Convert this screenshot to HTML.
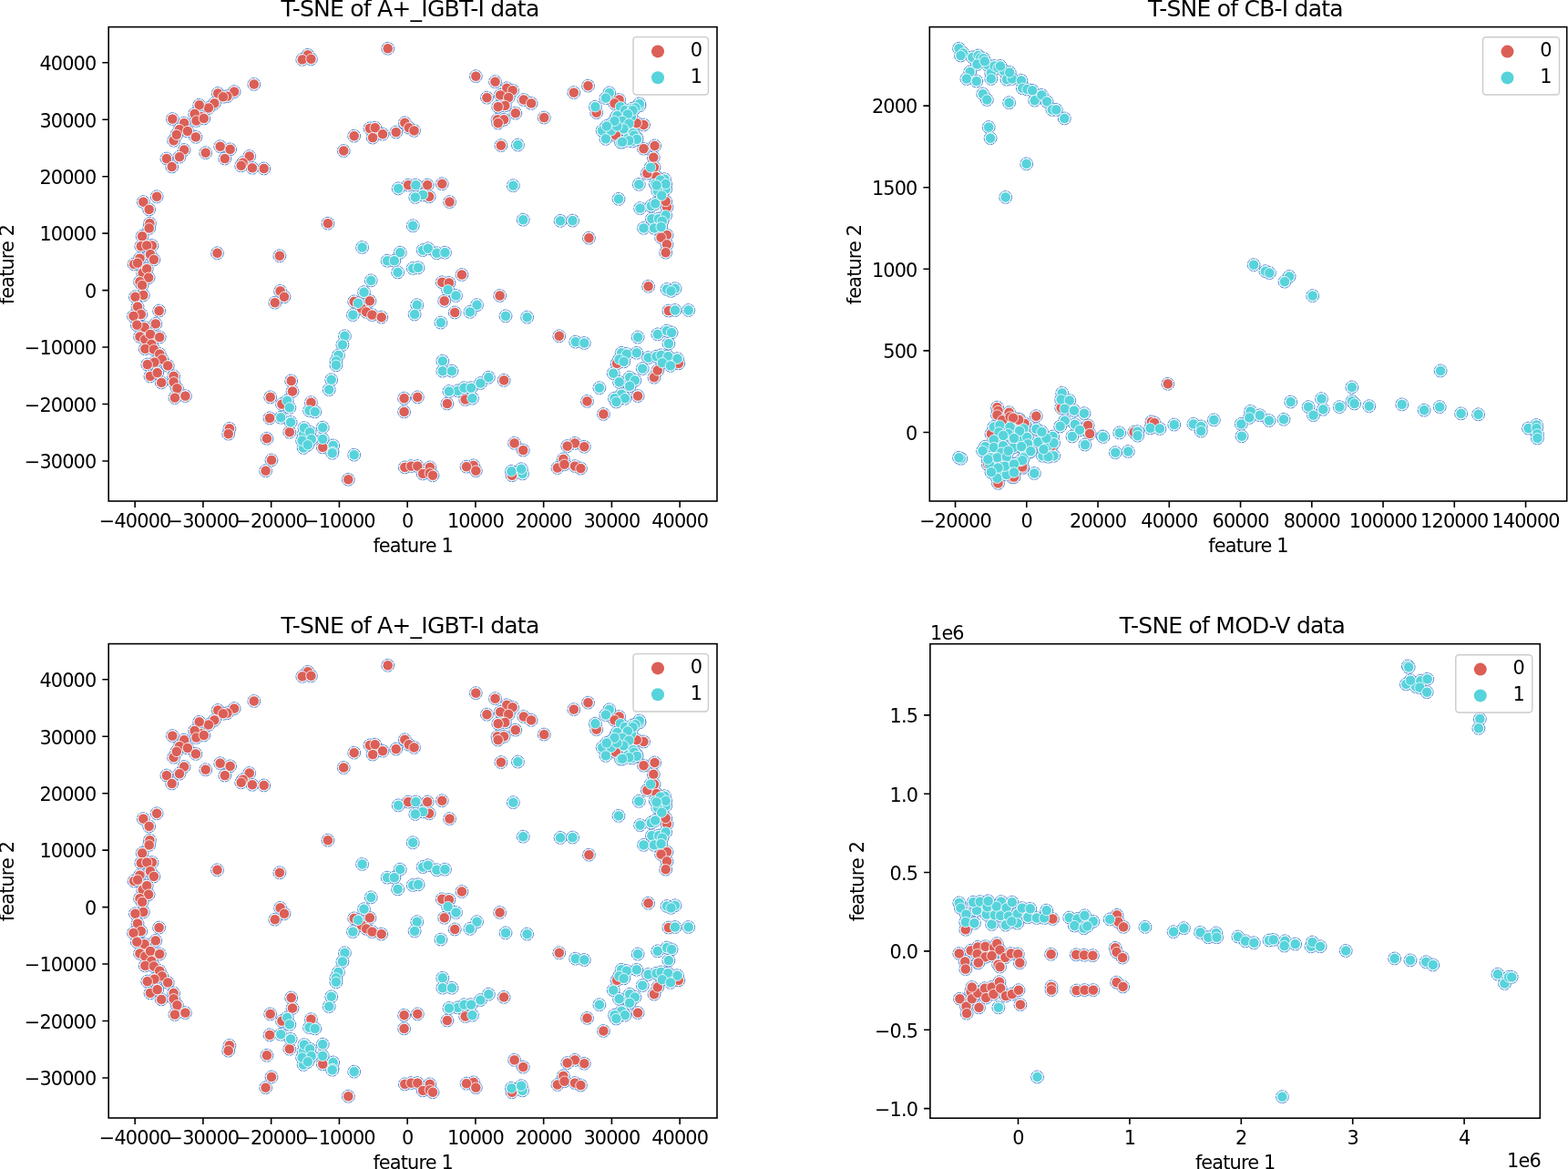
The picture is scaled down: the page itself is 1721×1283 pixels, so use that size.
<!DOCTYPE html><html><head><meta charset="utf-8"><title>T-SNE plots</title><style>html,body{margin:0;padding:0;background:#fff;overflow:hidden}svg{display:block}.t{font-family:"DejaVu Sans","Liberation Sans",sans-serif;font-size:20.83px;letter-spacing:-0.85px;fill:#000}.ti{font-family:"DejaVu Sans","Liberation Sans",sans-serif;font-size:25.0px;letter-spacing:-0.76px;fill:#000}</style></head><body><svg width="1721" height="1283" viewBox="0 0 1721 1283"><defs><circle id="r" r="6.9" fill="#fff" stroke="#4f89d2" stroke-width="1.0" stroke-dasharray="5 0.8"/><circle id="a" r="5.7" fill="#db5f57" stroke="#fff" stroke-width="0.8"/><circle id="b" r="5.7" fill="#57d3db" stroke="#fff" stroke-width="0.8"/></defs><clipPath id="c1"><rect x="119.2" y="29.6" width="667.8" height="520.4"/></clipPath><g><g clip-path="url(#c1)"><use href="#r" x="278.8" y="92.5"/><use href="#r" x="239.2" y="102.5"/><use href="#r" x="257.1" y="100.6"/><use href="#r" x="249.4" y="105.7"/><use href="#r" x="244.9" y="106.3"/><use href="#r" x="235.3" y="113.4"/><use href="#r" x="228.9" y="118.5"/><use href="#r" x="218.7" y="115.3"/><use href="#r" x="220.6" y="128.1"/><use href="#r" x="213.6" y="124.9"/><use href="#r" x="215.5" y="132.5"/><use href="#r" x="223.8" y="130"/><use href="#r" x="189.3" y="130.6"/><use href="#r" x="202.1" y="135.1"/><use href="#r" x="197" y="142.1"/><use href="#r" x="205.9" y="144"/><use href="#r" x="214.9" y="150.4"/><use href="#r" x="190.6" y="154.3"/><use href="#r" x="193.8" y="147.9"/><use href="#r" x="202.1" y="164.5"/><use href="#r" x="197" y="172.2"/><use href="#r" x="182.9" y="174.1"/><use href="#r" x="188.7" y="183"/><use href="#r" x="225.7" y="167.7"/><use href="#r" x="241.7" y="160.7"/><use href="#r" x="252.6" y="163.9"/><use href="#r" x="246.8" y="174.1"/><use href="#r" x="273.7" y="171.5"/><use href="#r" x="266.6" y="178.6"/><use href="#r" x="276.9" y="184.3"/><use href="#r" x="289.7" y="185"/><use href="#r" x="264.7" y="181.8"/><use href="#r" x="337.9" y="60.3"/><use href="#r" x="331.8" y="65.4"/><use href="#r" x="341.4" y="64.8"/><use href="#r" x="425.7" y="53.3"/><use href="#r" x="522.3" y="83.7"/><use href="#r" x="534.4" y="107.2"/><use href="#r" x="388.7" y="149.2"/><use href="#r" x="377.2" y="165.5"/><use href="#r" x="405.9" y="140.9"/><use href="#r" x="411.7" y="140.2"/><use href="#r" x="409.1" y="151.1"/><use href="#r" x="420" y="147.2"/><use href="#r" x="434.7" y="145.1"/><use href="#r" x="444.3" y="134.8"/><use href="#r" x="448.8" y="140.2"/><use href="#r" x="454.5" y="143.4"/><use href="#r" x="543.5" y="89.7"/><use href="#r" x="556.3" y="96.8"/><use href="#r" x="562.6" y="99.3"/><use href="#r" x="549.2" y="104.4"/><use href="#r" x="558.2" y="107"/><use href="#r" x="554.3" y="115.9"/><use href="#r" x="546.7" y="117.2"/><use href="#r" x="565.8" y="124.2"/><use href="#r" x="546" y="131.3"/><use href="#r" x="553.1" y="131.3"/><use href="#r" x="546.7" y="135.1"/><use href="#r" x="574.8" y="109.5"/><use href="#r" x="583.1" y="113.4"/><use href="#r" x="597.2" y="129.1"/><use href="#r" x="549.9" y="159.6"/><use href="#r" x="629.8" y="101.6"/><use href="#r" x="645.5" y="94.2"/><use href="#r" x="654.7" y="123.6"/><use href="#r" x="679.6" y="109.5"/><use href="#r" x="674.5" y="113.4"/><use href="#r" x="706.5" y="137"/><use href="#r" x="698.8" y="135.1"/><use href="#r" x="675.8" y="148.5"/><use href="#r" x="706.5" y="163.2"/><use href="#r" x="718.6" y="160"/><use href="#r" x="717.3" y="172.8"/><use href="#r" x="718" y="183.7"/><use href="#r" x="172.1" y="215.8"/><use href="#r" x="157.3" y="221.6"/><use href="#r" x="163.7" y="229.9"/><use href="#r" x="164.4" y="245.2"/><use href="#r" x="163.7" y="250.4"/><use href="#r" x="156.1" y="259.3"/><use href="#r" x="154.8" y="270.2"/><use href="#r" x="166.9" y="269.5"/><use href="#r" x="161.2" y="269.5"/><use href="#r" x="153.5" y="283.6"/><use href="#r" x="165" y="279.1"/><use href="#r" x="168.9" y="284.9"/><use href="#r" x="147.1" y="290"/><use href="#r" x="151" y="288.7"/><use href="#r" x="156.7" y="299.6"/><use href="#r" x="161.2" y="295.1"/><use href="#r" x="163.1" y="304.7"/><use href="#r" x="153.5" y="309.2"/><use href="#r" x="156.1" y="313"/><use href="#r" x="157.3" y="323.9"/><use href="#r" x="148.4" y="325.8"/><use href="#r" x="151" y="336.6"/><use href="#r" x="154.8" y="345"/><use href="#r" x="146.5" y="346.9"/><use href="#r" x="174.6" y="341.1"/><use href="#r" x="238.5" y="277.8"/><use href="#r" x="306.9" y="280.8"/><use href="#r" x="307.6" y="319.4"/><use href="#r" x="312" y="325.8"/><use href="#r" x="301.8" y="332.2"/><use href="#r" x="448.1" y="203.1"/><use href="#r" x="469.2" y="203.1"/><use href="#r" x="471.1" y="215.8"/><use href="#r" x="485.2" y="201.8"/><use href="#r" x="493.5" y="221.6"/><use href="#r" x="359.9" y="245.2"/><use href="#r" x="506.9" y="301.5"/><use href="#r" x="485.2" y="309.8"/><use href="#r" x="492.9" y="310.4"/><use href="#r" x="487.7" y="330.3"/><use href="#r" x="499.2" y="343"/><use href="#r" x="388.7" y="330.9"/><use href="#r" x="405.9" y="330.3"/><use href="#r" x="397" y="338.6"/><use href="#r" x="402.1" y="342.4"/><use href="#r" x="408.5" y="345.6"/><use href="#r" x="418.7" y="348.2"/><use href="#r" x="646.4" y="261.2"/><use href="#r" x="548.6" y="324.5"/><use href="#r" x="711.6" y="314.3"/><use href="#r" x="732" y="227.3"/><use href="#r" x="730.7" y="221"/><use href="#r" x="732" y="258"/><use href="#r" x="725.6" y="260.6"/><use href="#r" x="732" y="268.3"/><use href="#r" x="730.7" y="277.2"/><use href="#r" x="733.9" y="341.1"/><use href="#r" x="720.5" y="194.1"/><use href="#r" x="710.3" y="190.3"/><use href="#r" x="170.8" y="355.4"/><use href="#r" x="158.6" y="359.2"/><use href="#r" x="150.3" y="356.7"/><use href="#r" x="153.5" y="369.5"/><use href="#r" x="159.3" y="372.6"/><use href="#r" x="165" y="366.9"/><use href="#r" x="175.2" y="370.1"/><use href="#r" x="166.3" y="377.8"/><use href="#r" x="159.3" y="382.9"/><use href="#r" x="168.9" y="383.5"/><use href="#r" x="175.2" y="388.6"/><use href="#r" x="177.8" y="394.4"/><use href="#r" x="169.5" y="397.6"/><use href="#r" x="161.8" y="400.1"/><use href="#r" x="184.2" y="401.4"/><use href="#r" x="165" y="412.9"/><use href="#r" x="172.7" y="409.1"/><use href="#r" x="177.2" y="419.9"/><use href="#r" x="190.6" y="412.9"/><use href="#r" x="190.6" y="419.3"/><use href="#r" x="194.4" y="426.3"/><use href="#r" x="191.9" y="436.6"/><use href="#r" x="203.4" y="434.6"/><use href="#r" x="251.9" y="470.4"/><use href="#r" x="250.7" y="476.2"/><use href="#r" x="296.7" y="435.9"/><use href="#r" x="319.7" y="418"/><use href="#r" x="321" y="429.5"/><use href="#r" x="296" y="458.9"/><use href="#r" x="292.9" y="481.3"/><use href="#r" x="317.8" y="474.3"/><use href="#r" x="298" y="505"/><use href="#r" x="309.5" y="443.6"/><use href="#r" x="341.4" y="441.7"/><use href="#r" x="354.2" y="490.9"/><use href="#r" x="443.6" y="437.2"/><use href="#r" x="458.3" y="435.9"/><use href="#r" x="443.6" y="451.9"/><use href="#r" x="490.9" y="443"/><use href="#r" x="510.7" y="438.5"/><use href="#r" x="613.8" y="368.8"/><use href="#r" x="553.1" y="417.4"/><use href="#r" x="644.5" y="440.4"/><use href="#r" x="662.4" y="454.5"/><use href="#r" x="700.1" y="434.6"/><use href="#r" x="718" y="414.2"/><use href="#r" x="721.8" y="406.5"/><use href="#r" x="744.8" y="398.9"/><use href="#r" x="677.1" y="398.9"/><use href="#r" x="564.6" y="486.4"/><use href="#r" x="574.2" y="494.1"/><use href="#r" x="631" y="486.4"/><use href="#r" x="622.7" y="489.6"/><use href="#r" x="641.3" y="490.3"/><use href="#r" x="291.6" y="516.7"/><use href="#r" x="382.3" y="526.3"/><use href="#r" x="444.3" y="512.9"/><use href="#r" x="451.3" y="511.6"/><use href="#r" x="458.3" y="511.6"/><use href="#r" x="471.8" y="512.9"/><use href="#r" x="464.1" y="519.9"/><use href="#r" x="471.8" y="519.3"/><use href="#r" x="475" y="521.8"/><use href="#r" x="519.7" y="510.9"/><use href="#r" x="512" y="512.2"/><use href="#r" x="522.3" y="516.7"/><use href="#r" x="618.3" y="503.9"/><use href="#r" x="562" y="521.8"/><use href="#r" x="611.9" y="513.5"/><use href="#r" x="619.5" y="509.7"/><use href="#r" x="631" y="511.6"/><use href="#r" x="637.4" y="514.1"/><use href="#r" x="568.4" y="159.1"/><use href="#r" x="668.8" y="101.9"/><use href="#r" x="664.9" y="107.6"/><use href="#r" x="653.4" y="117.2"/><use href="#r" x="680.9" y="117.2"/><use href="#r" x="686" y="121"/><use href="#r" x="694.3" y="119.1"/><use href="#r" x="702" y="115.9"/><use href="#r" x="675.8" y="130"/><use href="#r" x="693" y="128.1"/><use href="#r" x="670.7" y="136.4"/><use href="#r" x="682.2" y="131.3"/><use href="#r" x="687.3" y="133.8"/><use href="#r" x="661.1" y="143.4"/><use href="#r" x="670.7" y="143.4"/><use href="#r" x="682.2" y="138.9"/><use href="#r" x="664.9" y="152.4"/><use href="#r" x="681.5" y="156.2"/><use href="#r" x="694.3" y="154.9"/><use href="#r" x="689.2" y="151.7"/><use href="#r" x="698.8" y="151.1"/><use href="#r" x="695" y="146"/><use href="#r" x="714.1" y="183.7"/><use href="#r" x="437.2" y="206.9"/><use href="#r" x="456.4" y="203.1"/><use href="#r" x="464.1" y="213.9"/><use href="#r" x="455.8" y="216.5"/><use href="#r" x="453.2" y="247.8"/><use href="#r" x="397.6" y="271.5"/><use href="#r" x="439.2" y="277.2"/><use href="#r" x="425.1" y="286.2"/><use href="#r" x="432.8" y="286.2"/><use href="#r" x="436.6" y="298.9"/><use href="#r" x="453.2" y="294.5"/><use href="#r" x="459" y="293.8"/><use href="#r" x="464.1" y="274.6"/><use href="#r" x="469.8" y="272.7"/><use href="#r" x="479.4" y="277.8"/><use href="#r" x="488.4" y="277.2"/><use href="#r" x="407.2" y="307.9"/><use href="#r" x="399.5" y="320.7"/><use href="#r" x="393.1" y="332.8"/><use href="#r" x="387.4" y="345.6"/><use href="#r" x="491.6" y="318.1"/><use href="#r" x="500.5" y="324.5"/><use href="#r" x="457.7" y="334.7"/><use href="#r" x="455.1" y="345"/><use href="#r" x="523.5" y="334.7"/><use href="#r" x="515.9" y="342.4"/><use href="#r" x="563.3" y="203.7"/><use href="#r" x="574.2" y="241.2"/><use href="#r" x="615.1" y="242.4"/><use href="#r" x="628.5" y="242.1"/><use href="#r" x="679" y="218.4"/><use href="#r" x="701.3" y="202.4"/><use href="#r" x="702.6" y="228.6"/><use href="#r" x="714.8" y="226.1"/><use href="#r" x="719.2" y="223.5"/><use href="#r" x="719.2" y="201.8"/><use href="#r" x="729.5" y="196.7"/><use href="#r" x="730.7" y="207.5"/><use href="#r" x="721.8" y="209.5"/><use href="#r" x="726.3" y="214.6"/><use href="#r" x="715.4" y="240.1"/><use href="#r" x="723.1" y="240.1"/><use href="#r" x="730.7" y="236.3"/><use href="#r" x="726.9" y="242.7"/><use href="#r" x="706.5" y="250.4"/><use href="#r" x="718" y="250.4"/><use href="#r" x="725.6" y="249.1"/><use href="#r" x="732" y="317.5"/><use href="#r" x="741" y="316.8"/><use href="#r" x="736.5" y="319.4"/><use href="#r" x="741" y="340.5"/><use href="#r" x="755.7" y="340.5"/><use href="#r" x="555" y="346.9"/><use href="#r" x="578.6" y="348.2"/><use href="#r" x="315.2" y="439.8"/><use href="#r" x="317.8" y="447.4"/><use href="#r" x="308.2" y="458.3"/><use href="#r" x="319.1" y="463.4"/><use href="#r" x="378.4" y="368.8"/><use href="#r" x="375.9" y="378.4"/><use href="#r" x="371.4" y="389.9"/><use href="#r" x="368.9" y="396.3"/><use href="#r" x="368.9" y="400.8"/><use href="#r" x="363.7" y="416.8"/><use href="#r" x="361.2" y="427.6"/><use href="#r" x="339.5" y="450.6"/><use href="#r" x="345.8" y="451.9"/><use href="#r" x="354.2" y="469.2"/><use href="#r" x="354.2" y="481.9"/><use href="#r" x="365.7" y="489"/><use href="#r" x="365" y="496"/><use href="#r" x="333.1" y="476.8"/><use href="#r" x="340.7" y="483.2"/><use href="#r" x="333.1" y="491.5"/><use href="#r" x="388.7" y="499.2"/><use href="#r" x="485.8" y="396.3"/><use href="#r" x="485.8" y="407.2"/><use href="#r" x="496" y="407.2"/><use href="#r" x="502.4" y="428.9"/><use href="#r" x="492.9" y="429.5"/><use href="#r" x="509.5" y="425.7"/><use href="#r" x="517.1" y="425.7"/><use href="#r" x="527.4" y="420.6"/><use href="#r" x="536.3" y="414.2"/><use href="#r" x="518.4" y="437.2"/><use href="#r" x="483.9" y="354.1"/><use href="#r" x="631.7" y="375.2"/><use href="#r" x="641.3" y="376.5"/><use href="#r" x="657.9" y="425.7"/><use href="#r" x="700.1" y="370.1"/><use href="#r" x="721.8" y="366.9"/><use href="#r" x="732" y="363.1"/><use href="#r" x="737.1" y="365"/><use href="#r" x="733.9" y="377.1"/><use href="#r" x="682.2" y="387.3"/><use href="#r" x="687.9" y="388.6"/><use href="#r" x="698.8" y="387.3"/><use href="#r" x="679.6" y="394.4"/><use href="#r" x="684.7" y="396.9"/><use href="#r" x="711.6" y="392.5"/><use href="#r" x="720.5" y="391.2"/><use href="#r" x="725.6" y="389.9"/><use href="#r" x="733.3" y="391.2"/><use href="#r" x="743.5" y="393.7"/><use href="#r" x="726.9" y="398.2"/><use href="#r" x="735.9" y="401.4"/><use href="#r" x="705.2" y="404.6"/><use href="#r" x="673.2" y="409.7"/><use href="#r" x="679.6" y="419.3"/><use href="#r" x="691.1" y="414.2"/><use href="#r" x="696.9" y="417.4"/><use href="#r" x="691.1" y="423.8"/><use href="#r" x="682.2" y="432.7"/><use href="#r" x="674.5" y="437.2"/><use href="#r" x="686" y="437.2"/><use href="#r" x="676.4" y="441"/><use href="#r" x="561.4" y="517.3"/><use href="#r" x="573.5" y="519.9"/><use href="#r" x="572.2" y="514.8"/><use href="#r" x="701.8" y="114"/><use href="#r" x="697.5" y="118.3"/><use href="#r" x="694.6" y="121.2"/><use href="#r" x="688.9" y="125.5"/><use href="#r" x="677.3" y="127"/><use href="#r" x="683.1" y="132.8"/><use href="#r" x="690.3" y="135.6"/><use href="#r" x="684.5" y="141.4"/><use href="#r" x="677.3" y="138.5"/><use href="#r" x="696.1" y="148.6"/><use href="#r" x="699" y="152.9"/><use href="#r" x="690.3" y="154.4"/><use href="#r" x="683.1" y="155.8"/><use href="#r" x="674.5" y="132.8"/><use href="#r" x="665.8" y="138.5"/><use href="#r" x="724.9" y="197.6"/><use href="#r" x="730.7" y="201.9"/><use href="#r" x="720.6" y="203.4"/><use href="#r" x="333.9" y="469.6"/><use href="#r" x="340.1" y="474.3"/><use href="#r" x="341.7" y="482.1"/><use href="#r" x="331.6" y="483.6"/><use href="#r" x="337.8" y="488.3"/><use href="#r" x="364.7" y="497.3"/><use href="#a" x="278.8" y="92.5"/><use href="#a" x="239.2" y="102.5"/><use href="#a" x="257.1" y="100.6"/><use href="#a" x="249.4" y="105.7"/><use href="#a" x="244.9" y="106.3"/><use href="#a" x="235.3" y="113.4"/><use href="#a" x="228.9" y="118.5"/><use href="#a" x="218.7" y="115.3"/><use href="#a" x="220.6" y="128.1"/><use href="#a" x="213.6" y="124.9"/><use href="#a" x="215.5" y="132.5"/><use href="#a" x="223.8" y="130"/><use href="#a" x="189.3" y="130.6"/><use href="#a" x="202.1" y="135.1"/><use href="#a" x="197" y="142.1"/><use href="#a" x="205.9" y="144"/><use href="#a" x="214.9" y="150.4"/><use href="#a" x="190.6" y="154.3"/><use href="#a" x="193.8" y="147.9"/><use href="#a" x="202.1" y="164.5"/><use href="#a" x="197" y="172.2"/><use href="#a" x="182.9" y="174.1"/><use href="#a" x="188.7" y="183"/><use href="#a" x="225.7" y="167.7"/><use href="#a" x="241.7" y="160.7"/><use href="#a" x="252.6" y="163.9"/><use href="#a" x="246.8" y="174.1"/><use href="#a" x="273.7" y="171.5"/><use href="#a" x="266.6" y="178.6"/><use href="#a" x="276.9" y="184.3"/><use href="#a" x="289.7" y="185"/><use href="#a" x="264.7" y="181.8"/><use href="#a" x="337.9" y="60.3"/><use href="#a" x="331.8" y="65.4"/><use href="#a" x="341.4" y="64.8"/><use href="#a" x="425.7" y="53.3"/><use href="#a" x="522.3" y="83.7"/><use href="#a" x="534.4" y="107.2"/><use href="#a" x="388.7" y="149.2"/><use href="#a" x="377.2" y="165.5"/><use href="#a" x="405.9" y="140.9"/><use href="#a" x="411.7" y="140.2"/><use href="#a" x="409.1" y="151.1"/><use href="#a" x="420" y="147.2"/><use href="#a" x="434.7" y="145.1"/><use href="#a" x="444.3" y="134.8"/><use href="#a" x="448.8" y="140.2"/><use href="#a" x="454.5" y="143.4"/><use href="#a" x="543.5" y="89.7"/><use href="#a" x="556.3" y="96.8"/><use href="#a" x="562.6" y="99.3"/><use href="#a" x="549.2" y="104.4"/><use href="#a" x="558.2" y="107"/><use href="#a" x="554.3" y="115.9"/><use href="#a" x="546.7" y="117.2"/><use href="#a" x="565.8" y="124.2"/><use href="#a" x="546" y="131.3"/><use href="#a" x="553.1" y="131.3"/><use href="#a" x="546.7" y="135.1"/><use href="#a" x="574.8" y="109.5"/><use href="#a" x="583.1" y="113.4"/><use href="#a" x="597.2" y="129.1"/><use href="#a" x="549.9" y="159.6"/><use href="#a" x="629.8" y="101.6"/><use href="#a" x="645.5" y="94.2"/><use href="#a" x="654.7" y="123.6"/><use href="#a" x="679.6" y="109.5"/><use href="#a" x="674.5" y="113.4"/><use href="#a" x="706.5" y="137"/><use href="#a" x="698.8" y="135.1"/><use href="#a" x="675.8" y="148.5"/><use href="#a" x="706.5" y="163.2"/><use href="#a" x="718.6" y="160"/><use href="#a" x="717.3" y="172.8"/><use href="#a" x="718" y="183.7"/><use href="#a" x="172.1" y="215.8"/><use href="#a" x="157.3" y="221.6"/><use href="#a" x="163.7" y="229.9"/><use href="#a" x="164.4" y="245.2"/><use href="#a" x="163.7" y="250.4"/><use href="#a" x="156.1" y="259.3"/><use href="#a" x="154.8" y="270.2"/><use href="#a" x="166.9" y="269.5"/><use href="#a" x="161.2" y="269.5"/><use href="#a" x="153.5" y="283.6"/><use href="#a" x="165" y="279.1"/><use href="#a" x="168.9" y="284.9"/><use href="#a" x="147.1" y="290"/><use href="#a" x="151" y="288.7"/><use href="#a" x="156.7" y="299.6"/><use href="#a" x="161.2" y="295.1"/><use href="#a" x="163.1" y="304.7"/><use href="#a" x="153.5" y="309.2"/><use href="#a" x="156.1" y="313"/><use href="#a" x="157.3" y="323.9"/><use href="#a" x="148.4" y="325.8"/><use href="#a" x="151" y="336.6"/><use href="#a" x="154.8" y="345"/><use href="#a" x="146.5" y="346.9"/><use href="#a" x="174.6" y="341.1"/><use href="#a" x="238.5" y="277.8"/><use href="#a" x="306.9" y="280.8"/><use href="#a" x="307.6" y="319.4"/><use href="#a" x="312" y="325.8"/><use href="#a" x="301.8" y="332.2"/><use href="#a" x="448.1" y="203.1"/><use href="#a" x="469.2" y="203.1"/><use href="#a" x="471.1" y="215.8"/><use href="#a" x="485.2" y="201.8"/><use href="#a" x="493.5" y="221.6"/><use href="#a" x="359.9" y="245.2"/><use href="#a" x="506.9" y="301.5"/><use href="#a" x="485.2" y="309.8"/><use href="#a" x="492.9" y="310.4"/><use href="#a" x="487.7" y="330.3"/><use href="#a" x="499.2" y="343"/><use href="#a" x="388.7" y="330.9"/><use href="#a" x="405.9" y="330.3"/><use href="#a" x="397" y="338.6"/><use href="#a" x="402.1" y="342.4"/><use href="#a" x="408.5" y="345.6"/><use href="#a" x="418.7" y="348.2"/><use href="#a" x="646.4" y="261.2"/><use href="#a" x="548.6" y="324.5"/><use href="#a" x="711.6" y="314.3"/><use href="#a" x="732" y="227.3"/><use href="#a" x="730.7" y="221"/><use href="#a" x="732" y="258"/><use href="#a" x="725.6" y="260.6"/><use href="#a" x="732" y="268.3"/><use href="#a" x="730.7" y="277.2"/><use href="#a" x="733.9" y="341.1"/><use href="#a" x="720.5" y="194.1"/><use href="#a" x="710.3" y="190.3"/><use href="#a" x="170.8" y="355.4"/><use href="#a" x="158.6" y="359.2"/><use href="#a" x="150.3" y="356.7"/><use href="#a" x="153.5" y="369.5"/><use href="#a" x="159.3" y="372.6"/><use href="#a" x="165" y="366.9"/><use href="#a" x="175.2" y="370.1"/><use href="#a" x="166.3" y="377.8"/><use href="#a" x="159.3" y="382.9"/><use href="#a" x="168.9" y="383.5"/><use href="#a" x="175.2" y="388.6"/><use href="#a" x="177.8" y="394.4"/><use href="#a" x="169.5" y="397.6"/><use href="#a" x="161.8" y="400.1"/><use href="#a" x="184.2" y="401.4"/><use href="#a" x="165" y="412.9"/><use href="#a" x="172.7" y="409.1"/><use href="#a" x="177.2" y="419.9"/><use href="#a" x="190.6" y="412.9"/><use href="#a" x="190.6" y="419.3"/><use href="#a" x="194.4" y="426.3"/><use href="#a" x="191.9" y="436.6"/><use href="#a" x="203.4" y="434.6"/><use href="#a" x="251.9" y="470.4"/><use href="#a" x="250.7" y="476.2"/><use href="#a" x="296.7" y="435.9"/><use href="#a" x="319.7" y="418"/><use href="#a" x="321" y="429.5"/><use href="#a" x="296" y="458.9"/><use href="#a" x="292.9" y="481.3"/><use href="#a" x="317.8" y="474.3"/><use href="#a" x="298" y="505"/><use href="#a" x="309.5" y="443.6"/><use href="#a" x="341.4" y="441.7"/><use href="#a" x="354.2" y="490.9"/><use href="#a" x="443.6" y="437.2"/><use href="#a" x="458.3" y="435.9"/><use href="#a" x="443.6" y="451.9"/><use href="#a" x="490.9" y="443"/><use href="#a" x="510.7" y="438.5"/><use href="#a" x="613.8" y="368.8"/><use href="#a" x="553.1" y="417.4"/><use href="#a" x="644.5" y="440.4"/><use href="#a" x="662.4" y="454.5"/><use href="#a" x="700.1" y="434.6"/><use href="#a" x="718" y="414.2"/><use href="#a" x="721.8" y="406.5"/><use href="#a" x="744.8" y="398.9"/><use href="#a" x="677.1" y="398.9"/><use href="#a" x="564.6" y="486.4"/><use href="#a" x="574.2" y="494.1"/><use href="#a" x="631" y="486.4"/><use href="#a" x="622.7" y="489.6"/><use href="#a" x="641.3" y="490.3"/><use href="#a" x="291.6" y="516.7"/><use href="#a" x="382.3" y="526.3"/><use href="#a" x="444.3" y="512.9"/><use href="#a" x="451.3" y="511.6"/><use href="#a" x="458.3" y="511.6"/><use href="#a" x="471.8" y="512.9"/><use href="#a" x="464.1" y="519.9"/><use href="#a" x="471.8" y="519.3"/><use href="#a" x="475" y="521.8"/><use href="#a" x="519.7" y="510.9"/><use href="#a" x="512" y="512.2"/><use href="#a" x="522.3" y="516.7"/><use href="#a" x="618.3" y="503.9"/><use href="#a" x="562" y="521.8"/><use href="#a" x="611.9" y="513.5"/><use href="#a" x="619.5" y="509.7"/><use href="#a" x="631" y="511.6"/><use href="#a" x="637.4" y="514.1"/><use href="#b" x="568.4" y="159.1"/><use href="#b" x="668.8" y="101.9"/><use href="#b" x="664.9" y="107.6"/><use href="#b" x="653.4" y="117.2"/><use href="#b" x="680.9" y="117.2"/><use href="#b" x="686" y="121"/><use href="#b" x="694.3" y="119.1"/><use href="#b" x="702" y="115.9"/><use href="#b" x="675.8" y="130"/><use href="#b" x="693" y="128.1"/><use href="#b" x="670.7" y="136.4"/><use href="#b" x="682.2" y="131.3"/><use href="#b" x="687.3" y="133.8"/><use href="#b" x="661.1" y="143.4"/><use href="#b" x="670.7" y="143.4"/><use href="#b" x="682.2" y="138.9"/><use href="#b" x="664.9" y="152.4"/><use href="#b" x="681.5" y="156.2"/><use href="#b" x="694.3" y="154.9"/><use href="#b" x="689.2" y="151.7"/><use href="#b" x="698.8" y="151.1"/><use href="#b" x="695" y="146"/><use href="#b" x="714.1" y="183.7"/><use href="#b" x="437.2" y="206.9"/><use href="#b" x="456.4" y="203.1"/><use href="#b" x="464.1" y="213.9"/><use href="#b" x="455.8" y="216.5"/><use href="#b" x="453.2" y="247.8"/><use href="#b" x="397.6" y="271.5"/><use href="#b" x="439.2" y="277.2"/><use href="#b" x="425.1" y="286.2"/><use href="#b" x="432.8" y="286.2"/><use href="#b" x="436.6" y="298.9"/><use href="#b" x="453.2" y="294.5"/><use href="#b" x="459" y="293.8"/><use href="#b" x="464.1" y="274.6"/><use href="#b" x="469.8" y="272.7"/><use href="#b" x="479.4" y="277.8"/><use href="#b" x="488.4" y="277.2"/><use href="#b" x="407.2" y="307.9"/><use href="#b" x="399.5" y="320.7"/><use href="#b" x="393.1" y="332.8"/><use href="#b" x="387.4" y="345.6"/><use href="#b" x="491.6" y="318.1"/><use href="#b" x="500.5" y="324.5"/><use href="#b" x="457.7" y="334.7"/><use href="#b" x="455.1" y="345"/><use href="#b" x="523.5" y="334.7"/><use href="#b" x="515.9" y="342.4"/><use href="#b" x="563.3" y="203.7"/><use href="#b" x="574.2" y="241.2"/><use href="#b" x="615.1" y="242.4"/><use href="#b" x="628.5" y="242.1"/><use href="#b" x="679" y="218.4"/><use href="#b" x="701.3" y="202.4"/><use href="#b" x="702.6" y="228.6"/><use href="#b" x="714.8" y="226.1"/><use href="#b" x="719.2" y="223.5"/><use href="#b" x="719.2" y="201.8"/><use href="#b" x="729.5" y="196.7"/><use href="#b" x="730.7" y="207.5"/><use href="#b" x="721.8" y="209.5"/><use href="#b" x="726.3" y="214.6"/><use href="#b" x="715.4" y="240.1"/><use href="#b" x="723.1" y="240.1"/><use href="#b" x="730.7" y="236.3"/><use href="#b" x="726.9" y="242.7"/><use href="#b" x="706.5" y="250.4"/><use href="#b" x="718" y="250.4"/><use href="#b" x="725.6" y="249.1"/><use href="#b" x="732" y="317.5"/><use href="#b" x="741" y="316.8"/><use href="#b" x="736.5" y="319.4"/><use href="#b" x="741" y="340.5"/><use href="#b" x="755.7" y="340.5"/><use href="#b" x="555" y="346.9"/><use href="#b" x="578.6" y="348.2"/><use href="#b" x="315.2" y="439.8"/><use href="#b" x="317.8" y="447.4"/><use href="#b" x="308.2" y="458.3"/><use href="#b" x="319.1" y="463.4"/><use href="#b" x="378.4" y="368.8"/><use href="#b" x="375.9" y="378.4"/><use href="#b" x="371.4" y="389.9"/><use href="#b" x="368.9" y="396.3"/><use href="#b" x="368.9" y="400.8"/><use href="#b" x="363.7" y="416.8"/><use href="#b" x="361.2" y="427.6"/><use href="#b" x="339.5" y="450.6"/><use href="#b" x="345.8" y="451.9"/><use href="#b" x="354.2" y="469.2"/><use href="#b" x="354.2" y="481.9"/><use href="#b" x="365.7" y="489"/><use href="#b" x="365" y="496"/><use href="#b" x="333.1" y="476.8"/><use href="#b" x="340.7" y="483.2"/><use href="#b" x="333.1" y="491.5"/><use href="#b" x="388.7" y="499.2"/><use href="#b" x="485.8" y="396.3"/><use href="#b" x="485.8" y="407.2"/><use href="#b" x="496" y="407.2"/><use href="#b" x="502.4" y="428.9"/><use href="#b" x="492.9" y="429.5"/><use href="#b" x="509.5" y="425.7"/><use href="#b" x="517.1" y="425.7"/><use href="#b" x="527.4" y="420.6"/><use href="#b" x="536.3" y="414.2"/><use href="#b" x="518.4" y="437.2"/><use href="#b" x="483.9" y="354.1"/><use href="#b" x="631.7" y="375.2"/><use href="#b" x="641.3" y="376.5"/><use href="#b" x="657.9" y="425.7"/><use href="#b" x="700.1" y="370.1"/><use href="#b" x="721.8" y="366.9"/><use href="#b" x="732" y="363.1"/><use href="#b" x="737.1" y="365"/><use href="#b" x="733.9" y="377.1"/><use href="#b" x="682.2" y="387.3"/><use href="#b" x="687.9" y="388.6"/><use href="#b" x="698.8" y="387.3"/><use href="#b" x="679.6" y="394.4"/><use href="#b" x="684.7" y="396.9"/><use href="#b" x="711.6" y="392.5"/><use href="#b" x="720.5" y="391.2"/><use href="#b" x="725.6" y="389.9"/><use href="#b" x="733.3" y="391.2"/><use href="#b" x="743.5" y="393.7"/><use href="#b" x="726.9" y="398.2"/><use href="#b" x="735.9" y="401.4"/><use href="#b" x="705.2" y="404.6"/><use href="#b" x="673.2" y="409.7"/><use href="#b" x="679.6" y="419.3"/><use href="#b" x="691.1" y="414.2"/><use href="#b" x="696.9" y="417.4"/><use href="#b" x="691.1" y="423.8"/><use href="#b" x="682.2" y="432.7"/><use href="#b" x="674.5" y="437.2"/><use href="#b" x="686" y="437.2"/><use href="#b" x="676.4" y="441"/><use href="#b" x="561.4" y="517.3"/><use href="#b" x="573.5" y="519.9"/><use href="#b" x="572.2" y="514.8"/><use href="#b" x="701.8" y="114"/><use href="#b" x="697.5" y="118.3"/><use href="#b" x="694.6" y="121.2"/><use href="#b" x="688.9" y="125.5"/><use href="#b" x="677.3" y="127"/><use href="#b" x="683.1" y="132.8"/><use href="#b" x="690.3" y="135.6"/><use href="#b" x="684.5" y="141.4"/><use href="#b" x="677.3" y="138.5"/><use href="#b" x="696.1" y="148.6"/><use href="#b" x="699" y="152.9"/><use href="#b" x="690.3" y="154.4"/><use href="#b" x="683.1" y="155.8"/><use href="#b" x="674.5" y="132.8"/><use href="#b" x="665.8" y="138.5"/><use href="#b" x="724.9" y="197.6"/><use href="#b" x="730.7" y="201.9"/><use href="#b" x="720.6" y="203.4"/><use href="#b" x="333.9" y="469.6"/><use href="#b" x="340.1" y="474.3"/><use href="#b" x="341.7" y="482.1"/><use href="#b" x="331.6" y="483.6"/><use href="#b" x="337.8" y="488.3"/><use href="#b" x="364.7" y="497.3"/></g><rect x="119.2" y="29.6" width="667.8" height="520.4" fill="none" stroke="#000" stroke-width="1.6" stroke-linejoin="miter"/><text x="148.15" y="578.7" class="t" text-anchor="middle">−40000</text><text x="222.9" y="578.7" class="t" text-anchor="middle">−30000</text><text x="297.65" y="578.7" class="t" text-anchor="middle">−20000</text><text x="372.4" y="578.7" class="t" text-anchor="middle">−10000</text><text x="447.15" y="578.7" class="t" text-anchor="middle">0</text><text x="521.9" y="578.7" class="t" text-anchor="middle">10000</text><text x="596.65" y="578.7" class="t" text-anchor="middle">20000</text><text x="671.4" y="578.7" class="t" text-anchor="middle">30000</text><text x="746.15" y="578.7" class="t" text-anchor="middle">40000</text><text x="105.4" y="514.25" class="t" text-anchor="end">−30000</text><text x="105.4" y="451.8" class="t" text-anchor="end">−20000</text><text x="105.4" y="389.35" class="t" text-anchor="end">−10000</text><text x="105.4" y="326.9" class="t" text-anchor="end">0</text><text x="105.4" y="264.45" class="t" text-anchor="end">10000</text><text x="105.4" y="202" class="t" text-anchor="end">20000</text><text x="105.4" y="139.55" class="t" text-anchor="end">30000</text><text x="105.4" y="77.1" class="t" text-anchor="end">40000</text><path d="M148.15 550v6.9M222.9 550v6.9M297.65 550v6.9M372.4 550v6.9M447.15 550v6.9M521.9 550v6.9M596.65 550v6.9M671.4 550v6.9M746.15 550v6.9M119.2 505.95h-6.9M119.2 443.5h-6.9M119.2 381.05h-6.9M119.2 318.6h-6.9M119.2 256.15h-6.9M119.2 193.7h-6.9M119.2 131.25h-6.9M119.2 68.8h-6.9" stroke="#000" stroke-width="1.6" fill="none"/><text x="453.1" y="605.6" class="t" text-anchor="middle">feature 1</text><text transform="translate(14.5 290.5) rotate(-90)" class="t" text-anchor="middle">feature 2</text><text x="450" y="18.1" class="ti" text-anchor="middle">T-SNE of A+_IGBT-I data</text><rect x="695" y="40.6" width="82.4" height="63.4" rx="3.5" fill="#fff" fill-opacity="0.8" stroke="#ccc" stroke-width="1.4400000000000002"/><circle cx="722" cy="56.4" r="7.0" fill="#db5f57"/><circle cx="722" cy="85.2" r="7.0" fill="#57d3db"/><text x="763.9" y="62.2" class="t" text-anchor="middle">0</text><text x="763.9" y="91" class="t" text-anchor="middle">1</text></g><clipPath id="c2"><rect x="119.2" y="706.6" width="667.8" height="520.4"/></clipPath><g><g clip-path="url(#c2)"><use href="#r" x="278.8" y="769.5"/><use href="#r" x="239.2" y="779.5"/><use href="#r" x="257.1" y="777.6"/><use href="#r" x="249.4" y="782.7"/><use href="#r" x="244.9" y="783.3"/><use href="#r" x="235.3" y="790.4"/><use href="#r" x="228.9" y="795.5"/><use href="#r" x="218.7" y="792.3"/><use href="#r" x="220.6" y="805.1"/><use href="#r" x="213.6" y="801.9"/><use href="#r" x="215.5" y="809.5"/><use href="#r" x="223.8" y="807"/><use href="#r" x="189.3" y="807.6"/><use href="#r" x="202.1" y="812.1"/><use href="#r" x="197" y="819.1"/><use href="#r" x="205.9" y="821"/><use href="#r" x="214.9" y="827.4"/><use href="#r" x="190.6" y="831.3"/><use href="#r" x="193.8" y="824.9"/><use href="#r" x="202.1" y="841.5"/><use href="#r" x="197" y="849.2"/><use href="#r" x="182.9" y="851.1"/><use href="#r" x="188.7" y="860"/><use href="#r" x="225.7" y="844.7"/><use href="#r" x="241.7" y="837.7"/><use href="#r" x="252.6" y="840.9"/><use href="#r" x="246.8" y="851.1"/><use href="#r" x="273.7" y="848.5"/><use href="#r" x="266.6" y="855.6"/><use href="#r" x="276.9" y="861.3"/><use href="#r" x="289.7" y="862"/><use href="#r" x="264.7" y="858.8"/><use href="#r" x="337.9" y="737.3"/><use href="#r" x="331.8" y="742.4"/><use href="#r" x="341.4" y="741.8"/><use href="#r" x="425.7" y="730.3"/><use href="#r" x="522.3" y="760.7"/><use href="#r" x="534.4" y="784.2"/><use href="#r" x="388.7" y="826.2"/><use href="#r" x="377.2" y="842.5"/><use href="#r" x="405.9" y="817.9"/><use href="#r" x="411.7" y="817.2"/><use href="#r" x="409.1" y="828.1"/><use href="#r" x="420" y="824.2"/><use href="#r" x="434.7" y="822.1"/><use href="#r" x="444.3" y="811.8"/><use href="#r" x="448.8" y="817.2"/><use href="#r" x="454.5" y="820.4"/><use href="#r" x="543.5" y="766.7"/><use href="#r" x="556.3" y="773.8"/><use href="#r" x="562.6" y="776.3"/><use href="#r" x="549.2" y="781.4"/><use href="#r" x="558.2" y="784"/><use href="#r" x="554.3" y="792.9"/><use href="#r" x="546.7" y="794.2"/><use href="#r" x="565.8" y="801.2"/><use href="#r" x="546" y="808.3"/><use href="#r" x="553.1" y="808.3"/><use href="#r" x="546.7" y="812.1"/><use href="#r" x="574.8" y="786.5"/><use href="#r" x="583.1" y="790.4"/><use href="#r" x="597.2" y="806.1"/><use href="#r" x="549.9" y="836.6"/><use href="#r" x="629.8" y="778.6"/><use href="#r" x="645.5" y="771.2"/><use href="#r" x="654.7" y="800.6"/><use href="#r" x="679.6" y="786.5"/><use href="#r" x="674.5" y="790.4"/><use href="#r" x="706.5" y="814"/><use href="#r" x="698.8" y="812.1"/><use href="#r" x="675.8" y="825.5"/><use href="#r" x="706.5" y="840.2"/><use href="#r" x="718.6" y="837"/><use href="#r" x="717.3" y="849.8"/><use href="#r" x="718" y="860.7"/><use href="#r" x="172.1" y="892.8"/><use href="#r" x="157.3" y="898.6"/><use href="#r" x="163.7" y="906.9"/><use href="#r" x="164.4" y="922.2"/><use href="#r" x="163.7" y="927.4"/><use href="#r" x="156.1" y="936.3"/><use href="#r" x="154.8" y="947.2"/><use href="#r" x="166.9" y="946.5"/><use href="#r" x="161.2" y="946.5"/><use href="#r" x="153.5" y="960.6"/><use href="#r" x="165" y="956.1"/><use href="#r" x="168.9" y="961.9"/><use href="#r" x="147.1" y="967"/><use href="#r" x="151" y="965.7"/><use href="#r" x="156.7" y="976.6"/><use href="#r" x="161.2" y="972.1"/><use href="#r" x="163.1" y="981.7"/><use href="#r" x="153.5" y="986.2"/><use href="#r" x="156.1" y="990"/><use href="#r" x="157.3" y="1000.9"/><use href="#r" x="148.4" y="1002.8"/><use href="#r" x="151" y="1013.6"/><use href="#r" x="154.8" y="1022"/><use href="#r" x="146.5" y="1023.9"/><use href="#r" x="174.6" y="1018.1"/><use href="#r" x="238.5" y="954.8"/><use href="#r" x="306.9" y="957.8"/><use href="#r" x="307.6" y="996.4"/><use href="#r" x="312" y="1002.8"/><use href="#r" x="301.8" y="1009.2"/><use href="#r" x="448.1" y="880.1"/><use href="#r" x="469.2" y="880.1"/><use href="#r" x="471.1" y="892.8"/><use href="#r" x="485.2" y="878.8"/><use href="#r" x="493.5" y="898.6"/><use href="#r" x="359.9" y="922.2"/><use href="#r" x="506.9" y="978.5"/><use href="#r" x="485.2" y="986.8"/><use href="#r" x="492.9" y="987.4"/><use href="#r" x="487.7" y="1007.3"/><use href="#r" x="499.2" y="1020"/><use href="#r" x="388.7" y="1007.9"/><use href="#r" x="405.9" y="1007.3"/><use href="#r" x="397" y="1015.6"/><use href="#r" x="402.1" y="1019.4"/><use href="#r" x="408.5" y="1022.6"/><use href="#r" x="418.7" y="1025.2"/><use href="#r" x="646.4" y="938.2"/><use href="#r" x="548.6" y="1001.5"/><use href="#r" x="711.6" y="991.3"/><use href="#r" x="732" y="904.3"/><use href="#r" x="730.7" y="898"/><use href="#r" x="732" y="935"/><use href="#r" x="725.6" y="937.6"/><use href="#r" x="732" y="945.3"/><use href="#r" x="730.7" y="954.2"/><use href="#r" x="733.9" y="1018.1"/><use href="#r" x="720.5" y="871.1"/><use href="#r" x="710.3" y="867.3"/><use href="#r" x="170.8" y="1032.4"/><use href="#r" x="158.6" y="1036.2"/><use href="#r" x="150.3" y="1033.7"/><use href="#r" x="153.5" y="1046.5"/><use href="#r" x="159.3" y="1049.6"/><use href="#r" x="165" y="1043.9"/><use href="#r" x="175.2" y="1047.1"/><use href="#r" x="166.3" y="1054.8"/><use href="#r" x="159.3" y="1059.9"/><use href="#r" x="168.9" y="1060.5"/><use href="#r" x="175.2" y="1065.6"/><use href="#r" x="177.8" y="1071.4"/><use href="#r" x="169.5" y="1074.6"/><use href="#r" x="161.8" y="1077.1"/><use href="#r" x="184.2" y="1078.4"/><use href="#r" x="165" y="1089.9"/><use href="#r" x="172.7" y="1086.1"/><use href="#r" x="177.2" y="1096.9"/><use href="#r" x="190.6" y="1089.9"/><use href="#r" x="190.6" y="1096.3"/><use href="#r" x="194.4" y="1103.3"/><use href="#r" x="191.9" y="1113.6"/><use href="#r" x="203.4" y="1111.6"/><use href="#r" x="251.9" y="1147.4"/><use href="#r" x="250.7" y="1153.2"/><use href="#r" x="296.7" y="1112.9"/><use href="#r" x="319.7" y="1095"/><use href="#r" x="321" y="1106.5"/><use href="#r" x="296" y="1135.9"/><use href="#r" x="292.9" y="1158.3"/><use href="#r" x="317.8" y="1151.3"/><use href="#r" x="298" y="1182"/><use href="#r" x="309.5" y="1120.6"/><use href="#r" x="341.4" y="1118.7"/><use href="#r" x="354.2" y="1167.9"/><use href="#r" x="443.6" y="1114.2"/><use href="#r" x="458.3" y="1112.9"/><use href="#r" x="443.6" y="1128.9"/><use href="#r" x="490.9" y="1120"/><use href="#r" x="510.7" y="1115.5"/><use href="#r" x="613.8" y="1045.8"/><use href="#r" x="553.1" y="1094.4"/><use href="#r" x="644.5" y="1117.4"/><use href="#r" x="662.4" y="1131.5"/><use href="#r" x="700.1" y="1111.6"/><use href="#r" x="718" y="1091.2"/><use href="#r" x="721.8" y="1083.5"/><use href="#r" x="744.8" y="1075.9"/><use href="#r" x="677.1" y="1075.9"/><use href="#r" x="564.6" y="1163.4"/><use href="#r" x="574.2" y="1171.1"/><use href="#r" x="631" y="1163.4"/><use href="#r" x="622.7" y="1166.6"/><use href="#r" x="641.3" y="1167.3"/><use href="#r" x="291.6" y="1193.7"/><use href="#r" x="382.3" y="1203.3"/><use href="#r" x="444.3" y="1189.9"/><use href="#r" x="451.3" y="1188.6"/><use href="#r" x="458.3" y="1188.6"/><use href="#r" x="471.8" y="1189.9"/><use href="#r" x="464.1" y="1196.9"/><use href="#r" x="471.8" y="1196.3"/><use href="#r" x="475" y="1198.8"/><use href="#r" x="519.7" y="1187.9"/><use href="#r" x="512" y="1189.2"/><use href="#r" x="522.3" y="1193.7"/><use href="#r" x="618.3" y="1180.9"/><use href="#r" x="562" y="1198.8"/><use href="#r" x="611.9" y="1190.5"/><use href="#r" x="619.5" y="1186.7"/><use href="#r" x="631" y="1188.6"/><use href="#r" x="637.4" y="1191.1"/><use href="#r" x="568.4" y="836.1"/><use href="#r" x="668.8" y="778.9"/><use href="#r" x="664.9" y="784.6"/><use href="#r" x="653.4" y="794.2"/><use href="#r" x="680.9" y="794.2"/><use href="#r" x="686" y="798"/><use href="#r" x="694.3" y="796.1"/><use href="#r" x="702" y="792.9"/><use href="#r" x="675.8" y="807"/><use href="#r" x="693" y="805.1"/><use href="#r" x="670.7" y="813.4"/><use href="#r" x="682.2" y="808.3"/><use href="#r" x="687.3" y="810.8"/><use href="#r" x="661.1" y="820.4"/><use href="#r" x="670.7" y="820.4"/><use href="#r" x="682.2" y="815.9"/><use href="#r" x="664.9" y="829.4"/><use href="#r" x="681.5" y="833.2"/><use href="#r" x="694.3" y="831.9"/><use href="#r" x="689.2" y="828.7"/><use href="#r" x="698.8" y="828.1"/><use href="#r" x="695" y="823"/><use href="#r" x="714.1" y="860.7"/><use href="#r" x="437.2" y="883.9"/><use href="#r" x="456.4" y="880.1"/><use href="#r" x="464.1" y="890.9"/><use href="#r" x="455.8" y="893.5"/><use href="#r" x="453.2" y="924.8"/><use href="#r" x="397.6" y="948.5"/><use href="#r" x="439.2" y="954.2"/><use href="#r" x="425.1" y="963.2"/><use href="#r" x="432.8" y="963.2"/><use href="#r" x="436.6" y="975.9"/><use href="#r" x="453.2" y="971.5"/><use href="#r" x="459" y="970.8"/><use href="#r" x="464.1" y="951.6"/><use href="#r" x="469.8" y="949.7"/><use href="#r" x="479.4" y="954.8"/><use href="#r" x="488.4" y="954.2"/><use href="#r" x="407.2" y="984.9"/><use href="#r" x="399.5" y="997.7"/><use href="#r" x="393.1" y="1009.8"/><use href="#r" x="387.4" y="1022.6"/><use href="#r" x="491.6" y="995.1"/><use href="#r" x="500.5" y="1001.5"/><use href="#r" x="457.7" y="1011.7"/><use href="#r" x="455.1" y="1022"/><use href="#r" x="523.5" y="1011.7"/><use href="#r" x="515.9" y="1019.4"/><use href="#r" x="563.3" y="880.7"/><use href="#r" x="574.2" y="918.2"/><use href="#r" x="615.1" y="919.4"/><use href="#r" x="628.5" y="919.1"/><use href="#r" x="679" y="895.4"/><use href="#r" x="701.3" y="879.4"/><use href="#r" x="702.6" y="905.6"/><use href="#r" x="714.8" y="903.1"/><use href="#r" x="719.2" y="900.5"/><use href="#r" x="719.2" y="878.8"/><use href="#r" x="729.5" y="873.7"/><use href="#r" x="730.7" y="884.5"/><use href="#r" x="721.8" y="886.5"/><use href="#r" x="726.3" y="891.6"/><use href="#r" x="715.4" y="917.1"/><use href="#r" x="723.1" y="917.1"/><use href="#r" x="730.7" y="913.3"/><use href="#r" x="726.9" y="919.7"/><use href="#r" x="706.5" y="927.4"/><use href="#r" x="718" y="927.4"/><use href="#r" x="725.6" y="926.1"/><use href="#r" x="732" y="994.5"/><use href="#r" x="741" y="993.8"/><use href="#r" x="736.5" y="996.4"/><use href="#r" x="741" y="1017.5"/><use href="#r" x="755.7" y="1017.5"/><use href="#r" x="555" y="1023.9"/><use href="#r" x="578.6" y="1025.2"/><use href="#r" x="315.2" y="1116.8"/><use href="#r" x="317.8" y="1124.4"/><use href="#r" x="308.2" y="1135.3"/><use href="#r" x="319.1" y="1140.4"/><use href="#r" x="378.4" y="1045.8"/><use href="#r" x="375.9" y="1055.4"/><use href="#r" x="371.4" y="1066.9"/><use href="#r" x="368.9" y="1073.3"/><use href="#r" x="368.9" y="1077.8"/><use href="#r" x="363.7" y="1093.8"/><use href="#r" x="361.2" y="1104.6"/><use href="#r" x="339.5" y="1127.6"/><use href="#r" x="345.8" y="1128.9"/><use href="#r" x="354.2" y="1146.2"/><use href="#r" x="354.2" y="1158.9"/><use href="#r" x="365.7" y="1166"/><use href="#r" x="365" y="1173"/><use href="#r" x="333.1" y="1153.8"/><use href="#r" x="340.7" y="1160.2"/><use href="#r" x="333.1" y="1168.5"/><use href="#r" x="388.7" y="1176.2"/><use href="#r" x="485.8" y="1073.3"/><use href="#r" x="485.8" y="1084.2"/><use href="#r" x="496" y="1084.2"/><use href="#r" x="502.4" y="1105.9"/><use href="#r" x="492.9" y="1106.5"/><use href="#r" x="509.5" y="1102.7"/><use href="#r" x="517.1" y="1102.7"/><use href="#r" x="527.4" y="1097.6"/><use href="#r" x="536.3" y="1091.2"/><use href="#r" x="518.4" y="1114.2"/><use href="#r" x="483.9" y="1031.1"/><use href="#r" x="631.7" y="1052.2"/><use href="#r" x="641.3" y="1053.5"/><use href="#r" x="657.9" y="1102.7"/><use href="#r" x="700.1" y="1047.1"/><use href="#r" x="721.8" y="1043.9"/><use href="#r" x="732" y="1040.1"/><use href="#r" x="737.1" y="1042"/><use href="#r" x="733.9" y="1054.1"/><use href="#r" x="682.2" y="1064.3"/><use href="#r" x="687.9" y="1065.6"/><use href="#r" x="698.8" y="1064.3"/><use href="#r" x="679.6" y="1071.4"/><use href="#r" x="684.7" y="1073.9"/><use href="#r" x="711.6" y="1069.5"/><use href="#r" x="720.5" y="1068.2"/><use href="#r" x="725.6" y="1066.9"/><use href="#r" x="733.3" y="1068.2"/><use href="#r" x="743.5" y="1070.7"/><use href="#r" x="726.9" y="1075.2"/><use href="#r" x="735.9" y="1078.4"/><use href="#r" x="705.2" y="1081.6"/><use href="#r" x="673.2" y="1086.7"/><use href="#r" x="679.6" y="1096.3"/><use href="#r" x="691.1" y="1091.2"/><use href="#r" x="696.9" y="1094.4"/><use href="#r" x="691.1" y="1100.8"/><use href="#r" x="682.2" y="1109.7"/><use href="#r" x="674.5" y="1114.2"/><use href="#r" x="686" y="1114.2"/><use href="#r" x="676.4" y="1118"/><use href="#r" x="561.4" y="1194.3"/><use href="#r" x="573.5" y="1196.9"/><use href="#r" x="572.2" y="1191.8"/><use href="#r" x="701.8" y="791"/><use href="#r" x="697.5" y="795.3"/><use href="#r" x="694.6" y="798.2"/><use href="#r" x="688.9" y="802.5"/><use href="#r" x="677.3" y="804"/><use href="#r" x="683.1" y="809.8"/><use href="#r" x="690.3" y="812.6"/><use href="#r" x="684.5" y="818.4"/><use href="#r" x="677.3" y="815.5"/><use href="#r" x="696.1" y="825.6"/><use href="#r" x="699" y="829.9"/><use href="#r" x="690.3" y="831.4"/><use href="#r" x="683.1" y="832.8"/><use href="#r" x="674.5" y="809.8"/><use href="#r" x="665.8" y="815.5"/><use href="#r" x="724.9" y="874.6"/><use href="#r" x="730.7" y="878.9"/><use href="#r" x="720.6" y="880.4"/><use href="#r" x="333.9" y="1146.6"/><use href="#r" x="340.1" y="1151.3"/><use href="#r" x="341.7" y="1159.1"/><use href="#r" x="331.6" y="1160.6"/><use href="#r" x="337.8" y="1165.3"/><use href="#r" x="364.7" y="1174.3"/><use href="#a" x="278.8" y="769.5"/><use href="#a" x="239.2" y="779.5"/><use href="#a" x="257.1" y="777.6"/><use href="#a" x="249.4" y="782.7"/><use href="#a" x="244.9" y="783.3"/><use href="#a" x="235.3" y="790.4"/><use href="#a" x="228.9" y="795.5"/><use href="#a" x="218.7" y="792.3"/><use href="#a" x="220.6" y="805.1"/><use href="#a" x="213.6" y="801.9"/><use href="#a" x="215.5" y="809.5"/><use href="#a" x="223.8" y="807"/><use href="#a" x="189.3" y="807.6"/><use href="#a" x="202.1" y="812.1"/><use href="#a" x="197" y="819.1"/><use href="#a" x="205.9" y="821"/><use href="#a" x="214.9" y="827.4"/><use href="#a" x="190.6" y="831.3"/><use href="#a" x="193.8" y="824.9"/><use href="#a" x="202.1" y="841.5"/><use href="#a" x="197" y="849.2"/><use href="#a" x="182.9" y="851.1"/><use href="#a" x="188.7" y="860"/><use href="#a" x="225.7" y="844.7"/><use href="#a" x="241.7" y="837.7"/><use href="#a" x="252.6" y="840.9"/><use href="#a" x="246.8" y="851.1"/><use href="#a" x="273.7" y="848.5"/><use href="#a" x="266.6" y="855.6"/><use href="#a" x="276.9" y="861.3"/><use href="#a" x="289.7" y="862"/><use href="#a" x="264.7" y="858.8"/><use href="#a" x="337.9" y="737.3"/><use href="#a" x="331.8" y="742.4"/><use href="#a" x="341.4" y="741.8"/><use href="#a" x="425.7" y="730.3"/><use href="#a" x="522.3" y="760.7"/><use href="#a" x="534.4" y="784.2"/><use href="#a" x="388.7" y="826.2"/><use href="#a" x="377.2" y="842.5"/><use href="#a" x="405.9" y="817.9"/><use href="#a" x="411.7" y="817.2"/><use href="#a" x="409.1" y="828.1"/><use href="#a" x="420" y="824.2"/><use href="#a" x="434.7" y="822.1"/><use href="#a" x="444.3" y="811.8"/><use href="#a" x="448.8" y="817.2"/><use href="#a" x="454.5" y="820.4"/><use href="#a" x="543.5" y="766.7"/><use href="#a" x="556.3" y="773.8"/><use href="#a" x="562.6" y="776.3"/><use href="#a" x="549.2" y="781.4"/><use href="#a" x="558.2" y="784"/><use href="#a" x="554.3" y="792.9"/><use href="#a" x="546.7" y="794.2"/><use href="#a" x="565.8" y="801.2"/><use href="#a" x="546" y="808.3"/><use href="#a" x="553.1" y="808.3"/><use href="#a" x="546.7" y="812.1"/><use href="#a" x="574.8" y="786.5"/><use href="#a" x="583.1" y="790.4"/><use href="#a" x="597.2" y="806.1"/><use href="#a" x="549.9" y="836.6"/><use href="#a" x="629.8" y="778.6"/><use href="#a" x="645.5" y="771.2"/><use href="#a" x="654.7" y="800.6"/><use href="#a" x="679.6" y="786.5"/><use href="#a" x="674.5" y="790.4"/><use href="#a" x="706.5" y="814"/><use href="#a" x="698.8" y="812.1"/><use href="#a" x="675.8" y="825.5"/><use href="#a" x="706.5" y="840.2"/><use href="#a" x="718.6" y="837"/><use href="#a" x="717.3" y="849.8"/><use href="#a" x="718" y="860.7"/><use href="#a" x="172.1" y="892.8"/><use href="#a" x="157.3" y="898.6"/><use href="#a" x="163.7" y="906.9"/><use href="#a" x="164.4" y="922.2"/><use href="#a" x="163.7" y="927.4"/><use href="#a" x="156.1" y="936.3"/><use href="#a" x="154.8" y="947.2"/><use href="#a" x="166.9" y="946.5"/><use href="#a" x="161.2" y="946.5"/><use href="#a" x="153.5" y="960.6"/><use href="#a" x="165" y="956.1"/><use href="#a" x="168.9" y="961.9"/><use href="#a" x="147.1" y="967"/><use href="#a" x="151" y="965.7"/><use href="#a" x="156.7" y="976.6"/><use href="#a" x="161.2" y="972.1"/><use href="#a" x="163.1" y="981.7"/><use href="#a" x="153.5" y="986.2"/><use href="#a" x="156.1" y="990"/><use href="#a" x="157.3" y="1000.9"/><use href="#a" x="148.4" y="1002.8"/><use href="#a" x="151" y="1013.6"/><use href="#a" x="154.8" y="1022"/><use href="#a" x="146.5" y="1023.9"/><use href="#a" x="174.6" y="1018.1"/><use href="#a" x="238.5" y="954.8"/><use href="#a" x="306.9" y="957.8"/><use href="#a" x="307.6" y="996.4"/><use href="#a" x="312" y="1002.8"/><use href="#a" x="301.8" y="1009.2"/><use href="#a" x="448.1" y="880.1"/><use href="#a" x="469.2" y="880.1"/><use href="#a" x="471.1" y="892.8"/><use href="#a" x="485.2" y="878.8"/><use href="#a" x="493.5" y="898.6"/><use href="#a" x="359.9" y="922.2"/><use href="#a" x="506.9" y="978.5"/><use href="#a" x="485.2" y="986.8"/><use href="#a" x="492.9" y="987.4"/><use href="#a" x="487.7" y="1007.3"/><use href="#a" x="499.2" y="1020"/><use href="#a" x="388.7" y="1007.9"/><use href="#a" x="405.9" y="1007.3"/><use href="#a" x="397" y="1015.6"/><use href="#a" x="402.1" y="1019.4"/><use href="#a" x="408.5" y="1022.6"/><use href="#a" x="418.7" y="1025.2"/><use href="#a" x="646.4" y="938.2"/><use href="#a" x="548.6" y="1001.5"/><use href="#a" x="711.6" y="991.3"/><use href="#a" x="732" y="904.3"/><use href="#a" x="730.7" y="898"/><use href="#a" x="732" y="935"/><use href="#a" x="725.6" y="937.6"/><use href="#a" x="732" y="945.3"/><use href="#a" x="730.7" y="954.2"/><use href="#a" x="733.9" y="1018.1"/><use href="#a" x="720.5" y="871.1"/><use href="#a" x="710.3" y="867.3"/><use href="#a" x="170.8" y="1032.4"/><use href="#a" x="158.6" y="1036.2"/><use href="#a" x="150.3" y="1033.7"/><use href="#a" x="153.5" y="1046.5"/><use href="#a" x="159.3" y="1049.6"/><use href="#a" x="165" y="1043.9"/><use href="#a" x="175.2" y="1047.1"/><use href="#a" x="166.3" y="1054.8"/><use href="#a" x="159.3" y="1059.9"/><use href="#a" x="168.9" y="1060.5"/><use href="#a" x="175.2" y="1065.6"/><use href="#a" x="177.8" y="1071.4"/><use href="#a" x="169.5" y="1074.6"/><use href="#a" x="161.8" y="1077.1"/><use href="#a" x="184.2" y="1078.4"/><use href="#a" x="165" y="1089.9"/><use href="#a" x="172.7" y="1086.1"/><use href="#a" x="177.2" y="1096.9"/><use href="#a" x="190.6" y="1089.9"/><use href="#a" x="190.6" y="1096.3"/><use href="#a" x="194.4" y="1103.3"/><use href="#a" x="191.9" y="1113.6"/><use href="#a" x="203.4" y="1111.6"/><use href="#a" x="251.9" y="1147.4"/><use href="#a" x="250.7" y="1153.2"/><use href="#a" x="296.7" y="1112.9"/><use href="#a" x="319.7" y="1095"/><use href="#a" x="321" y="1106.5"/><use href="#a" x="296" y="1135.9"/><use href="#a" x="292.9" y="1158.3"/><use href="#a" x="317.8" y="1151.3"/><use href="#a" x="298" y="1182"/><use href="#a" x="309.5" y="1120.6"/><use href="#a" x="341.4" y="1118.7"/><use href="#a" x="354.2" y="1167.9"/><use href="#a" x="443.6" y="1114.2"/><use href="#a" x="458.3" y="1112.9"/><use href="#a" x="443.6" y="1128.9"/><use href="#a" x="490.9" y="1120"/><use href="#a" x="510.7" y="1115.5"/><use href="#a" x="613.8" y="1045.8"/><use href="#a" x="553.1" y="1094.4"/><use href="#a" x="644.5" y="1117.4"/><use href="#a" x="662.4" y="1131.5"/><use href="#a" x="700.1" y="1111.6"/><use href="#a" x="718" y="1091.2"/><use href="#a" x="721.8" y="1083.5"/><use href="#a" x="744.8" y="1075.9"/><use href="#a" x="677.1" y="1075.9"/><use href="#a" x="564.6" y="1163.4"/><use href="#a" x="574.2" y="1171.1"/><use href="#a" x="631" y="1163.4"/><use href="#a" x="622.7" y="1166.6"/><use href="#a" x="641.3" y="1167.3"/><use href="#a" x="291.6" y="1193.7"/><use href="#a" x="382.3" y="1203.3"/><use href="#a" x="444.3" y="1189.9"/><use href="#a" x="451.3" y="1188.6"/><use href="#a" x="458.3" y="1188.6"/><use href="#a" x="471.8" y="1189.9"/><use href="#a" x="464.1" y="1196.9"/><use href="#a" x="471.8" y="1196.3"/><use href="#a" x="475" y="1198.8"/><use href="#a" x="519.7" y="1187.9"/><use href="#a" x="512" y="1189.2"/><use href="#a" x="522.3" y="1193.7"/><use href="#a" x="618.3" y="1180.9"/><use href="#a" x="562" y="1198.8"/><use href="#a" x="611.9" y="1190.5"/><use href="#a" x="619.5" y="1186.7"/><use href="#a" x="631" y="1188.6"/><use href="#a" x="637.4" y="1191.1"/><use href="#b" x="568.4" y="836.1"/><use href="#b" x="668.8" y="778.9"/><use href="#b" x="664.9" y="784.6"/><use href="#b" x="653.4" y="794.2"/><use href="#b" x="680.9" y="794.2"/><use href="#b" x="686" y="798"/><use href="#b" x="694.3" y="796.1"/><use href="#b" x="702" y="792.9"/><use href="#b" x="675.8" y="807"/><use href="#b" x="693" y="805.1"/><use href="#b" x="670.7" y="813.4"/><use href="#b" x="682.2" y="808.3"/><use href="#b" x="687.3" y="810.8"/><use href="#b" x="661.1" y="820.4"/><use href="#b" x="670.7" y="820.4"/><use href="#b" x="682.2" y="815.9"/><use href="#b" x="664.9" y="829.4"/><use href="#b" x="681.5" y="833.2"/><use href="#b" x="694.3" y="831.9"/><use href="#b" x="689.2" y="828.7"/><use href="#b" x="698.8" y="828.1"/><use href="#b" x="695" y="823"/><use href="#b" x="714.1" y="860.7"/><use href="#b" x="437.2" y="883.9"/><use href="#b" x="456.4" y="880.1"/><use href="#b" x="464.1" y="890.9"/><use href="#b" x="455.8" y="893.5"/><use href="#b" x="453.2" y="924.8"/><use href="#b" x="397.6" y="948.5"/><use href="#b" x="439.2" y="954.2"/><use href="#b" x="425.1" y="963.2"/><use href="#b" x="432.8" y="963.2"/><use href="#b" x="436.6" y="975.9"/><use href="#b" x="453.2" y="971.5"/><use href="#b" x="459" y="970.8"/><use href="#b" x="464.1" y="951.6"/><use href="#b" x="469.8" y="949.7"/><use href="#b" x="479.4" y="954.8"/><use href="#b" x="488.4" y="954.2"/><use href="#b" x="407.2" y="984.9"/><use href="#b" x="399.5" y="997.7"/><use href="#b" x="393.1" y="1009.8"/><use href="#b" x="387.4" y="1022.6"/><use href="#b" x="491.6" y="995.1"/><use href="#b" x="500.5" y="1001.5"/><use href="#b" x="457.7" y="1011.7"/><use href="#b" x="455.1" y="1022"/><use href="#b" x="523.5" y="1011.7"/><use href="#b" x="515.9" y="1019.4"/><use href="#b" x="563.3" y="880.7"/><use href="#b" x="574.2" y="918.2"/><use href="#b" x="615.1" y="919.4"/><use href="#b" x="628.5" y="919.1"/><use href="#b" x="679" y="895.4"/><use href="#b" x="701.3" y="879.4"/><use href="#b" x="702.6" y="905.6"/><use href="#b" x="714.8" y="903.1"/><use href="#b" x="719.2" y="900.5"/><use href="#b" x="719.2" y="878.8"/><use href="#b" x="729.5" y="873.7"/><use href="#b" x="730.7" y="884.5"/><use href="#b" x="721.8" y="886.5"/><use href="#b" x="726.3" y="891.6"/><use href="#b" x="715.4" y="917.1"/><use href="#b" x="723.1" y="917.1"/><use href="#b" x="730.7" y="913.3"/><use href="#b" x="726.9" y="919.7"/><use href="#b" x="706.5" y="927.4"/><use href="#b" x="718" y="927.4"/><use href="#b" x="725.6" y="926.1"/><use href="#b" x="732" y="994.5"/><use href="#b" x="741" y="993.8"/><use href="#b" x="736.5" y="996.4"/><use href="#b" x="741" y="1017.5"/><use href="#b" x="755.7" y="1017.5"/><use href="#b" x="555" y="1023.9"/><use href="#b" x="578.6" y="1025.2"/><use href="#b" x="315.2" y="1116.8"/><use href="#b" x="317.8" y="1124.4"/><use href="#b" x="308.2" y="1135.3"/><use href="#b" x="319.1" y="1140.4"/><use href="#b" x="378.4" y="1045.8"/><use href="#b" x="375.9" y="1055.4"/><use href="#b" x="371.4" y="1066.9"/><use href="#b" x="368.9" y="1073.3"/><use href="#b" x="368.9" y="1077.8"/><use href="#b" x="363.7" y="1093.8"/><use href="#b" x="361.2" y="1104.6"/><use href="#b" x="339.5" y="1127.6"/><use href="#b" x="345.8" y="1128.9"/><use href="#b" x="354.2" y="1146.2"/><use href="#b" x="354.2" y="1158.9"/><use href="#b" x="365.7" y="1166"/><use href="#b" x="365" y="1173"/><use href="#b" x="333.1" y="1153.8"/><use href="#b" x="340.7" y="1160.2"/><use href="#b" x="333.1" y="1168.5"/><use href="#b" x="388.7" y="1176.2"/><use href="#b" x="485.8" y="1073.3"/><use href="#b" x="485.8" y="1084.2"/><use href="#b" x="496" y="1084.2"/><use href="#b" x="502.4" y="1105.9"/><use href="#b" x="492.9" y="1106.5"/><use href="#b" x="509.5" y="1102.7"/><use href="#b" x="517.1" y="1102.7"/><use href="#b" x="527.4" y="1097.6"/><use href="#b" x="536.3" y="1091.2"/><use href="#b" x="518.4" y="1114.2"/><use href="#b" x="483.9" y="1031.1"/><use href="#b" x="631.7" y="1052.2"/><use href="#b" x="641.3" y="1053.5"/><use href="#b" x="657.9" y="1102.7"/><use href="#b" x="700.1" y="1047.1"/><use href="#b" x="721.8" y="1043.9"/><use href="#b" x="732" y="1040.1"/><use href="#b" x="737.1" y="1042"/><use href="#b" x="733.9" y="1054.1"/><use href="#b" x="682.2" y="1064.3"/><use href="#b" x="687.9" y="1065.6"/><use href="#b" x="698.8" y="1064.3"/><use href="#b" x="679.6" y="1071.4"/><use href="#b" x="684.7" y="1073.9"/><use href="#b" x="711.6" y="1069.5"/><use href="#b" x="720.5" y="1068.2"/><use href="#b" x="725.6" y="1066.9"/><use href="#b" x="733.3" y="1068.2"/><use href="#b" x="743.5" y="1070.7"/><use href="#b" x="726.9" y="1075.2"/><use href="#b" x="735.9" y="1078.4"/><use href="#b" x="705.2" y="1081.6"/><use href="#b" x="673.2" y="1086.7"/><use href="#b" x="679.6" y="1096.3"/><use href="#b" x="691.1" y="1091.2"/><use href="#b" x="696.9" y="1094.4"/><use href="#b" x="691.1" y="1100.8"/><use href="#b" x="682.2" y="1109.7"/><use href="#b" x="674.5" y="1114.2"/><use href="#b" x="686" y="1114.2"/><use href="#b" x="676.4" y="1118"/><use href="#b" x="561.4" y="1194.3"/><use href="#b" x="573.5" y="1196.9"/><use href="#b" x="572.2" y="1191.8"/><use href="#b" x="701.8" y="791"/><use href="#b" x="697.5" y="795.3"/><use href="#b" x="694.6" y="798.2"/><use href="#b" x="688.9" y="802.5"/><use href="#b" x="677.3" y="804"/><use href="#b" x="683.1" y="809.8"/><use href="#b" x="690.3" y="812.6"/><use href="#b" x="684.5" y="818.4"/><use href="#b" x="677.3" y="815.5"/><use href="#b" x="696.1" y="825.6"/><use href="#b" x="699" y="829.9"/><use href="#b" x="690.3" y="831.4"/><use href="#b" x="683.1" y="832.8"/><use href="#b" x="674.5" y="809.8"/><use href="#b" x="665.8" y="815.5"/><use href="#b" x="724.9" y="874.6"/><use href="#b" x="730.7" y="878.9"/><use href="#b" x="720.6" y="880.4"/><use href="#b" x="333.9" y="1146.6"/><use href="#b" x="340.1" y="1151.3"/><use href="#b" x="341.7" y="1159.1"/><use href="#b" x="331.6" y="1160.6"/><use href="#b" x="337.8" y="1165.3"/><use href="#b" x="364.7" y="1174.3"/></g><rect x="119.2" y="706.6" width="667.8" height="520.4" fill="none" stroke="#000" stroke-width="1.6" stroke-linejoin="miter"/><text x="148.15" y="1255.7" class="t" text-anchor="middle">−40000</text><text x="222.9" y="1255.7" class="t" text-anchor="middle">−30000</text><text x="297.65" y="1255.7" class="t" text-anchor="middle">−20000</text><text x="372.4" y="1255.7" class="t" text-anchor="middle">−10000</text><text x="447.15" y="1255.7" class="t" text-anchor="middle">0</text><text x="521.9" y="1255.7" class="t" text-anchor="middle">10000</text><text x="596.65" y="1255.7" class="t" text-anchor="middle">20000</text><text x="671.4" y="1255.7" class="t" text-anchor="middle">30000</text><text x="746.15" y="1255.7" class="t" text-anchor="middle">40000</text><text x="105.4" y="1191.25" class="t" text-anchor="end">−30000</text><text x="105.4" y="1128.8" class="t" text-anchor="end">−20000</text><text x="105.4" y="1066.35" class="t" text-anchor="end">−10000</text><text x="105.4" y="1003.9" class="t" text-anchor="end">0</text><text x="105.4" y="941.45" class="t" text-anchor="end">10000</text><text x="105.4" y="879" class="t" text-anchor="end">20000</text><text x="105.4" y="816.55" class="t" text-anchor="end">30000</text><text x="105.4" y="754.1" class="t" text-anchor="end">40000</text><path d="M148.15 1227v6.9M222.9 1227v6.9M297.65 1227v6.9M372.4 1227v6.9M447.15 1227v6.9M521.9 1227v6.9M596.65 1227v6.9M671.4 1227v6.9M746.15 1227v6.9M119.2 1182.95h-6.9M119.2 1120.5h-6.9M119.2 1058.05h-6.9M119.2 995.6h-6.9M119.2 933.15h-6.9M119.2 870.7h-6.9M119.2 808.25h-6.9M119.2 745.8h-6.9" stroke="#000" stroke-width="1.6" fill="none"/><text x="453.1" y="1282.6" class="t" text-anchor="middle">feature 1</text><text transform="translate(14.5 967.5) rotate(-90)" class="t" text-anchor="middle">feature 2</text><text x="450" y="695.1" class="ti" text-anchor="middle">T-SNE of A+_IGBT-I data</text><rect x="695" y="717.6" width="82.4" height="63.4" rx="3.5" fill="#fff" fill-opacity="0.8" stroke="#ccc" stroke-width="1.4400000000000002"/><circle cx="722" cy="733.4" r="7.0" fill="#db5f57"/><circle cx="722" cy="762.2" r="7.0" fill="#57d3db"/><text x="763.9" y="739.2" class="t" text-anchor="middle">0</text><text x="763.9" y="768" class="t" text-anchor="middle">1</text></g><clipPath id="c3"><rect x="1020.3" y="29.6" width="699.4" height="520.4"/></clipPath><g><g clip-path="url(#c3)"><use href="#r" x="1094.5" y="447.1"/><use href="#r" x="1095.5" y="450.9"/><use href="#r" x="1094.5" y="455.5"/><use href="#r" x="1100.2" y="461.2"/><use href="#r" x="1107.6" y="452.7"/><use href="#r" x="1108.6" y="457.4"/><use href="#r" x="1118.9" y="460.2"/><use href="#r" x="1119.8" y="463"/><use href="#r" x="1124.5" y="464.9"/><use href="#r" x="1114.2" y="459.3"/><use href="#r" x="1088" y="476.1"/><use href="#r" x="1084.3" y="509.8"/><use href="#r" x="1111.4" y="523.8"/><use href="#r" x="1122.6" y="513.5"/><use href="#r" x="1095.5" y="530.4"/><use href="#r" x="1137.3" y="456.7"/><use href="#r" x="1118.1" y="460.8"/><use href="#r" x="1112" y="458.7"/><use href="#r" x="1194.1" y="466.9"/><use href="#r" x="1196.1" y="476"/><use href="#r" x="1164.7" y="447.6"/><use href="#r" x="1154.6" y="489.1"/><use href="#r" x="1122.2" y="512.4"/><use href="#r" x="1113" y="523.6"/><use href="#r" x="1281.8" y="421.3"/><use href="#r" x="1263.9" y="462.9"/><use href="#r" x="1267.1" y="464.1"/><use href="#r" x="1244.7" y="474.4"/><use href="#r" x="1052.6" y="53.3"/><use href="#r" x="1057.1" y="58.4"/><use href="#r" x="1054.5" y="61"/><use href="#r" x="1067.3" y="62.9"/><use href="#r" x="1073.7" y="61"/><use href="#r" x="1076.2" y="63.5"/><use href="#r" x="1079.4" y="64.2"/><use href="#r" x="1072.4" y="70.5"/><use href="#r" x="1064.7" y="78.9"/><use href="#r" x="1060.9" y="86.5"/><use href="#r" x="1071.8" y="89.1"/><use href="#r" x="1083.9" y="71.2"/><use href="#r" x="1087.8" y="80.1"/><use href="#r" x="1087.8" y="86.5"/><use href="#r" x="1091.6" y="72.5"/><use href="#r" x="1095.4" y="74.4"/><use href="#r" x="1101.8" y="77.6"/><use href="#r" x="1105" y="87.2"/><use href="#r" x="1110.8" y="86.5"/><use href="#r" x="1108.2" y="79.5"/><use href="#r" x="1121" y="88.4"/><use href="#r" x="1122.3" y="96.8"/><use href="#r" x="1127.4" y="98"/><use href="#r" x="1133.1" y="99.3"/><use href="#r" x="1135.7" y="110.2"/><use href="#r" x="1143.4" y="104.4"/><use href="#r" x="1149.1" y="111.5"/><use href="#r" x="1154.9" y="120.4"/><use href="#r" x="1159.3" y="120.4"/><use href="#r" x="1168.3" y="130"/><use href="#r" x="1078.8" y="103.1"/><use href="#r" x="1083.3" y="109.5"/><use href="#r" x="1107.6" y="112.7"/><use href="#r" x="1085.2" y="139.6"/><use href="#r" x="1087.1" y="151.7"/><use href="#r" x="1126.7" y="179.8"/><use href="#r" x="1080.7" y="67.3"/><use href="#r" x="1098" y="72.5"/><use href="#r" x="1090.8" y="468.6"/><use href="#r" x="1097.3" y="466.8"/><use href="#r" x="1096.4" y="474.3"/><use href="#r" x="1090.8" y="482.7"/><use href="#r" x="1081.4" y="490.2"/><use href="#r" x="1078.6" y="494.8"/><use href="#r" x="1090.8" y="491.1"/><use href="#r" x="1101.1" y="489.2"/><use href="#r" x="1099.2" y="496.7"/><use href="#r" x="1112.3" y="481.7"/><use href="#r" x="1118.9" y="473.3"/><use href="#r" x="1123.5" y="470.5"/><use href="#r" x="1121.7" y="491.1"/><use href="#r" x="1131" y="495.8"/><use href="#r" x="1123.5" y="502.3"/><use href="#r" x="1086.1" y="502.3"/><use href="#r" x="1094.5" y="502.3"/><use href="#r" x="1104.8" y="501.4"/><use href="#r" x="1112.3" y="509.8"/><use href="#r" x="1104.8" y="513.5"/><use href="#r" x="1098.3" y="519.1"/><use href="#r" x="1094.5" y="524.8"/><use href="#r" x="1112.3" y="518.2"/><use href="#r" x="1104.8" y="521"/><use href="#r" x="1086.1" y="509.8"/><use href="#r" x="1119.8" y="506.1"/><use href="#r" x="1084.3" y="504.2"/><use href="#r" x="1108.6" y="468.6"/><use href="#r" x="1106.7" y="476.1"/><use href="#r" x="1112.3" y="491.1"/><use href="#r" x="1106.7" y="494.8"/><use href="#r" x="1103" y="511.7"/><use href="#r" x="1095.5" y="513.5"/><use href="#r" x="1088" y="518.2"/><use href="#r" x="1119.8" y="481.7"/><use href="#r" x="1127.3" y="479.9"/><use href="#r" x="1128.2" y="487.3"/><use href="#r" x="1101.1" y="478"/><use href="#r" x="1165.7" y="431.4"/><use href="#r" x="1164.7" y="438.5"/><use href="#r" x="1173.8" y="439.5"/><use href="#r" x="1168.7" y="448.6"/><use href="#r" x="1178.9" y="450.6"/><use href="#r" x="1190" y="453.7"/><use href="#r" x="1168.7" y="461.8"/><use href="#r" x="1163.7" y="467.9"/><use href="#r" x="1179.9" y="465.8"/><use href="#r" x="1185" y="471.9"/><use href="#r" x="1176.9" y="479"/><use href="#r" x="1191" y="488.1"/><use href="#r" x="1210.3" y="479"/><use href="#r" x="1137.3" y="470.9"/><use href="#r" x="1119.1" y="472.9"/><use href="#r" x="1113" y="481"/><use href="#r" x="1155.6" y="479"/><use href="#r" x="1139.4" y="485.1"/><use href="#r" x="1121.1" y="490.1"/><use href="#r" x="1131.3" y="495.2"/><use href="#r" x="1144.4" y="500.3"/><use href="#r" x="1156.6" y="500.3"/><use href="#r" x="1150.5" y="501.3"/><use href="#r" x="1122.2" y="505.3"/><use href="#r" x="1113" y="509.4"/><use href="#r" x="1113" y="518.5"/><use href="#r" x="1135.3" y="519.5"/><use href="#r" x="1150.5" y="489.1"/><use href="#r" x="1156.6" y="486.1"/><use href="#r" x="1145.5" y="493.2"/><use href="#r" x="1148.5" y="481"/><use href="#r" x="1143.4" y="473.9"/><use href="#r" x="1210.9" y="479.5"/><use href="#r" x="1228.8" y="475"/><use href="#r" x="1248.6" y="473.7"/><use href="#r" x="1248.6" y="478.2"/><use href="#r" x="1262.6" y="469.9"/><use href="#r" x="1272.9" y="470.5"/><use href="#r" x="1288.8" y="466.1"/><use href="#r" x="1309.9" y="465.4"/><use href="#r" x="1318.2" y="468"/><use href="#r" x="1318.2" y="473.1"/><use href="#r" x="1332.3" y="460.9"/><use href="#r" x="1224.3" y="496.7"/><use href="#r" x="1238.3" y="495.5"/><use href="#r" x="1362.3" y="465.4"/><use href="#r" x="1363" y="478.8"/><use href="#r" x="1372.6" y="451.4"/><use href="#r" x="1371.3" y="458.4"/><use href="#r" x="1382.8" y="455.8"/><use href="#r" x="1393" y="461.6"/><use href="#r" x="1409" y="460.3"/><use href="#r" x="1416.7" y="441.1"/><use href="#r" x="1436.1" y="446.6"/><use href="#r" x="1441.5" y="455.7"/><use href="#r" x="1450.5" y="437.6"/><use href="#r" x="1452.3" y="449.3"/><use href="#r" x="1470.3" y="446.6"/><use href="#r" x="1483.9" y="425"/><use href="#r" x="1483.9" y="440.3"/><use href="#r" x="1486.6" y="443"/><use href="#r" x="1502.8" y="445.7"/><use href="#r" x="1538.8" y="443.9"/><use href="#r" x="1563.1" y="450.2"/><use href="#r" x="1580.2" y="446.6"/><use href="#r" x="1581.1" y="407"/><use href="#r" x="1603.6" y="453.9"/><use href="#r" x="1622.6" y="454.8"/><use href="#r" x="1677.5" y="470.1"/><use href="#r" x="1686.5" y="466.5"/><use href="#r" x="1686.5" y="470.1"/><use href="#r" x="1687.4" y="476.4"/><use href="#r" x="1687.4" y="480.9"/><use href="#r" x="1103.7" y="216.5"/><use href="#r" x="1376.1" y="290.7"/><use href="#r" x="1388.9" y="297.7"/><use href="#r" x="1393.4" y="299.6"/><use href="#r" x="1415.1" y="303.5"/><use href="#r" x="1410" y="309.2"/><use href="#r" x="1440.7" y="324.6"/><use href="#r" x="1054.8" y="503.3"/><use href="#r" x="1052.5" y="502.3"/><use href="#a" x="1094.5" y="447.1"/><use href="#a" x="1095.5" y="450.9"/><use href="#a" x="1094.5" y="455.5"/><use href="#a" x="1100.2" y="461.2"/><use href="#a" x="1107.6" y="452.7"/><use href="#a" x="1108.6" y="457.4"/><use href="#a" x="1118.9" y="460.2"/><use href="#a" x="1119.8" y="463"/><use href="#a" x="1124.5" y="464.9"/><use href="#a" x="1114.2" y="459.3"/><use href="#a" x="1088" y="476.1"/><use href="#a" x="1084.3" y="509.8"/><use href="#a" x="1111.4" y="523.8"/><use href="#a" x="1122.6" y="513.5"/><use href="#a" x="1095.5" y="530.4"/><use href="#a" x="1137.3" y="456.7"/><use href="#a" x="1118.1" y="460.8"/><use href="#a" x="1112" y="458.7"/><use href="#a" x="1194.1" y="466.9"/><use href="#a" x="1196.1" y="476"/><use href="#a" x="1164.7" y="447.6"/><use href="#a" x="1154.6" y="489.1"/><use href="#a" x="1122.2" y="512.4"/><use href="#a" x="1113" y="523.6"/><use href="#a" x="1281.8" y="421.3"/><use href="#a" x="1263.9" y="462.9"/><use href="#a" x="1267.1" y="464.1"/><use href="#a" x="1244.7" y="474.4"/><use href="#b" x="1052.6" y="53.3"/><use href="#b" x="1057.1" y="58.4"/><use href="#b" x="1054.5" y="61"/><use href="#b" x="1067.3" y="62.9"/><use href="#b" x="1073.7" y="61"/><use href="#b" x="1076.2" y="63.5"/><use href="#b" x="1079.4" y="64.2"/><use href="#b" x="1072.4" y="70.5"/><use href="#b" x="1064.7" y="78.9"/><use href="#b" x="1060.9" y="86.5"/><use href="#b" x="1071.8" y="89.1"/><use href="#b" x="1083.9" y="71.2"/><use href="#b" x="1087.8" y="80.1"/><use href="#b" x="1087.8" y="86.5"/><use href="#b" x="1091.6" y="72.5"/><use href="#b" x="1095.4" y="74.4"/><use href="#b" x="1101.8" y="77.6"/><use href="#b" x="1105" y="87.2"/><use href="#b" x="1110.8" y="86.5"/><use href="#b" x="1108.2" y="79.5"/><use href="#b" x="1121" y="88.4"/><use href="#b" x="1122.3" y="96.8"/><use href="#b" x="1127.4" y="98"/><use href="#b" x="1133.1" y="99.3"/><use href="#b" x="1135.7" y="110.2"/><use href="#b" x="1143.4" y="104.4"/><use href="#b" x="1149.1" y="111.5"/><use href="#b" x="1154.9" y="120.4"/><use href="#b" x="1159.3" y="120.4"/><use href="#b" x="1168.3" y="130"/><use href="#b" x="1078.8" y="103.1"/><use href="#b" x="1083.3" y="109.5"/><use href="#b" x="1107.6" y="112.7"/><use href="#b" x="1085.2" y="139.6"/><use href="#b" x="1087.1" y="151.7"/><use href="#b" x="1126.7" y="179.8"/><use href="#b" x="1080.7" y="67.3"/><use href="#b" x="1098" y="72.5"/><use href="#b" x="1090.8" y="468.6"/><use href="#b" x="1097.3" y="466.8"/><use href="#b" x="1096.4" y="474.3"/><use href="#b" x="1090.8" y="482.7"/><use href="#b" x="1081.4" y="490.2"/><use href="#b" x="1078.6" y="494.8"/><use href="#b" x="1090.8" y="491.1"/><use href="#b" x="1101.1" y="489.2"/><use href="#b" x="1099.2" y="496.7"/><use href="#b" x="1112.3" y="481.7"/><use href="#b" x="1118.9" y="473.3"/><use href="#b" x="1123.5" y="470.5"/><use href="#b" x="1121.7" y="491.1"/><use href="#b" x="1131" y="495.8"/><use href="#b" x="1123.5" y="502.3"/><use href="#b" x="1086.1" y="502.3"/><use href="#b" x="1094.5" y="502.3"/><use href="#b" x="1104.8" y="501.4"/><use href="#b" x="1112.3" y="509.8"/><use href="#b" x="1104.8" y="513.5"/><use href="#b" x="1098.3" y="519.1"/><use href="#b" x="1094.5" y="524.8"/><use href="#b" x="1112.3" y="518.2"/><use href="#b" x="1104.8" y="521"/><use href="#b" x="1086.1" y="509.8"/><use href="#b" x="1119.8" y="506.1"/><use href="#b" x="1084.3" y="504.2"/><use href="#b" x="1108.6" y="468.6"/><use href="#b" x="1106.7" y="476.1"/><use href="#b" x="1112.3" y="491.1"/><use href="#b" x="1106.7" y="494.8"/><use href="#b" x="1103" y="511.7"/><use href="#b" x="1095.5" y="513.5"/><use href="#b" x="1088" y="518.2"/><use href="#b" x="1119.8" y="481.7"/><use href="#b" x="1127.3" y="479.9"/><use href="#b" x="1128.2" y="487.3"/><use href="#b" x="1101.1" y="478"/><use href="#b" x="1165.7" y="431.4"/><use href="#b" x="1164.7" y="438.5"/><use href="#b" x="1173.8" y="439.5"/><use href="#b" x="1168.7" y="448.6"/><use href="#b" x="1178.9" y="450.6"/><use href="#b" x="1190" y="453.7"/><use href="#b" x="1168.7" y="461.8"/><use href="#b" x="1163.7" y="467.9"/><use href="#b" x="1179.9" y="465.8"/><use href="#b" x="1185" y="471.9"/><use href="#b" x="1176.9" y="479"/><use href="#b" x="1191" y="488.1"/><use href="#b" x="1210.3" y="479"/><use href="#b" x="1137.3" y="470.9"/><use href="#b" x="1119.1" y="472.9"/><use href="#b" x="1113" y="481"/><use href="#b" x="1155.6" y="479"/><use href="#b" x="1139.4" y="485.1"/><use href="#b" x="1121.1" y="490.1"/><use href="#b" x="1131.3" y="495.2"/><use href="#b" x="1144.4" y="500.3"/><use href="#b" x="1156.6" y="500.3"/><use href="#b" x="1150.5" y="501.3"/><use href="#b" x="1122.2" y="505.3"/><use href="#b" x="1113" y="509.4"/><use href="#b" x="1113" y="518.5"/><use href="#b" x="1135.3" y="519.5"/><use href="#b" x="1150.5" y="489.1"/><use href="#b" x="1156.6" y="486.1"/><use href="#b" x="1145.5" y="493.2"/><use href="#b" x="1148.5" y="481"/><use href="#b" x="1143.4" y="473.9"/><use href="#b" x="1210.9" y="479.5"/><use href="#b" x="1228.8" y="475"/><use href="#b" x="1248.6" y="473.7"/><use href="#b" x="1248.6" y="478.2"/><use href="#b" x="1262.6" y="469.9"/><use href="#b" x="1272.9" y="470.5"/><use href="#b" x="1288.8" y="466.1"/><use href="#b" x="1309.9" y="465.4"/><use href="#b" x="1318.2" y="468"/><use href="#b" x="1318.2" y="473.1"/><use href="#b" x="1332.3" y="460.9"/><use href="#b" x="1224.3" y="496.7"/><use href="#b" x="1238.3" y="495.5"/><use href="#b" x="1362.3" y="465.4"/><use href="#b" x="1363" y="478.8"/><use href="#b" x="1372.6" y="451.4"/><use href="#b" x="1371.3" y="458.4"/><use href="#b" x="1382.8" y="455.8"/><use href="#b" x="1393" y="461.6"/><use href="#b" x="1409" y="460.3"/><use href="#b" x="1416.7" y="441.1"/><use href="#b" x="1436.1" y="446.6"/><use href="#b" x="1441.5" y="455.7"/><use href="#b" x="1450.5" y="437.6"/><use href="#b" x="1452.3" y="449.3"/><use href="#b" x="1470.3" y="446.6"/><use href="#b" x="1483.9" y="425"/><use href="#b" x="1483.9" y="440.3"/><use href="#b" x="1486.6" y="443"/><use href="#b" x="1502.8" y="445.7"/><use href="#b" x="1538.8" y="443.9"/><use href="#b" x="1563.1" y="450.2"/><use href="#b" x="1580.2" y="446.6"/><use href="#b" x="1581.1" y="407"/><use href="#b" x="1603.6" y="453.9"/><use href="#b" x="1622.6" y="454.8"/><use href="#b" x="1677.5" y="470.1"/><use href="#b" x="1686.5" y="466.5"/><use href="#b" x="1686.5" y="470.1"/><use href="#b" x="1687.4" y="476.4"/><use href="#b" x="1687.4" y="480.9"/><use href="#b" x="1103.7" y="216.5"/><use href="#b" x="1376.1" y="290.7"/><use href="#b" x="1388.9" y="297.7"/><use href="#b" x="1393.4" y="299.6"/><use href="#b" x="1415.1" y="303.5"/><use href="#b" x="1410" y="309.2"/><use href="#b" x="1440.7" y="324.6"/><use href="#b" x="1054.8" y="503.3"/><use href="#b" x="1052.5" y="502.3"/></g><rect x="1020.3" y="29.6" width="699.4" height="520.4" fill="none" stroke="#000" stroke-width="1.6" stroke-linejoin="miter"/><text x="1048.55" y="578.7" class="t" text-anchor="middle">−20000</text><text x="1126.8" y="578.7" class="t" text-anchor="middle">0</text><text x="1205.05" y="578.7" class="t" text-anchor="middle">20000</text><text x="1283.3" y="578.7" class="t" text-anchor="middle">40000</text><text x="1361.55" y="578.7" class="t" text-anchor="middle">60000</text><text x="1439.8" y="578.7" class="t" text-anchor="middle">80000</text><text x="1518.05" y="578.7" class="t" text-anchor="middle">100000</text><text x="1596.3" y="578.7" class="t" text-anchor="middle">120000</text><text x="1674.55" y="578.7" class="t" text-anchor="middle">140000</text><text x="1006.5" y="482.73" class="t" text-anchor="end">0</text><text x="1006.5" y="393.15" class="t" text-anchor="end">500</text><text x="1006.5" y="303.57" class="t" text-anchor="end">1000</text><text x="1006.5" y="213.99" class="t" text-anchor="end">1500</text><text x="1006.5" y="124.41" class="t" text-anchor="end">2000</text><path d="M1048.55 550v6.9M1126.8 550v6.9M1205.05 550v6.9M1283.3 550v6.9M1361.55 550v6.9M1439.8 550v6.9M1518.05 550v6.9M1596.3 550v6.9M1674.55 550v6.9M1020.3 474.43h-6.9M1020.3 384.85h-6.9M1020.3 295.27h-6.9M1020.3 205.69h-6.9M1020.3 116.11h-6.9" stroke="#000" stroke-width="1.6" fill="none"/><text x="1370" y="605.6" class="t" text-anchor="middle">feature 1</text><text transform="translate(945 290.5) rotate(-90)" class="t" text-anchor="middle">feature 2</text><text x="1366.9" y="18.1" class="ti" text-anchor="middle">T-SNE of CB-I data</text><rect x="1627.5" y="40.8" width="84" height="63.2" rx="3.5" fill="#fff" fill-opacity="0.8" stroke="#ccc" stroke-width="1.4400000000000002"/><circle cx="1654.5" cy="56.6" r="7.0" fill="#db5f57"/><circle cx="1654.5" cy="85.4" r="7.0" fill="#57d3db"/><text x="1696.4" y="62.4" class="t" text-anchor="middle">0</text><text x="1696.4" y="91.2" class="t" text-anchor="middle">1</text></g><clipPath id="c4"><rect x="1020.9" y="706.7" width="669.4" height="520.5"/></clipPath><g><g clip-path="url(#c4)"><use href="#r" x="1059.8" y="1020.3"/><use href="#r" x="1052.8" y="1046.5"/><use href="#r" x="1059.2" y="1055.4"/><use href="#r" x="1065.6" y="1043.3"/><use href="#r" x="1073.2" y="1039.4"/><use href="#r" x="1081.5" y="1038.8"/><use href="#r" x="1091.1" y="1040.1"/><use href="#r" x="1094.3" y="1035.6"/><use href="#r" x="1072.6" y="1047.1"/><use href="#r" x="1081.5" y="1050.3"/><use href="#r" x="1088.6" y="1049"/><use href="#r" x="1097.5" y="1042.6"/><use href="#r" x="1103.3" y="1050.9"/><use href="#r" x="1109.7" y="1046.5"/><use href="#r" x="1117.3" y="1047.1"/><use href="#r" x="1119.3" y="1056.7"/><use href="#r" x="1073.2" y="1056.7"/><use href="#r" x="1095.6" y="1058.6"/><use href="#r" x="1059.8" y="1063.6"/><use href="#r" x="1073.9" y="1056.6"/><use href="#r" x="1097.5" y="1061.1"/><use href="#r" x="1053.4" y="1096.2"/><use href="#r" x="1060.5" y="1104.6"/><use href="#r" x="1061.1" y="1112.2"/><use href="#r" x="1065.6" y="1088.6"/><use href="#r" x="1066.8" y="1096.2"/><use href="#r" x="1073.2" y="1089.9"/><use href="#r" x="1074.5" y="1105.8"/><use href="#r" x="1080.9" y="1084.7"/><use href="#r" x="1082.2" y="1095"/><use href="#r" x="1088.6" y="1083.5"/><use href="#r" x="1090.5" y="1091.1"/><use href="#r" x="1096.9" y="1077.7"/><use href="#r" x="1098.2" y="1084.7"/><use href="#r" x="1103.9" y="1093.1"/><use href="#r" x="1110.9" y="1091.1"/><use href="#r" x="1118" y="1086.7"/><use href="#r" x="1119.9" y="1102.6"/><use href="#r" x="1066.8" y="1083.5"/><use href="#r" x="1155.4" y="1008.5"/><use href="#r" x="1226" y="1004.3"/><use href="#r" x="1227.5" y="1011.8"/><use href="#r" x="1233.1" y="1017.4"/><use href="#r" x="1153.6" y="1047.3"/><use href="#r" x="1181.2" y="1047.8"/><use href="#r" x="1190" y="1048.3"/><use href="#r" x="1199.4" y="1048.7"/><use href="#r" x="1224.2" y="1040.3"/><use href="#r" x="1225.6" y="1045"/><use href="#r" x="1232.1" y="1051.1"/><use href="#r" x="1154" y="1082.9"/><use href="#r" x="1154" y="1086.6"/><use href="#r" x="1181.6" y="1087.1"/><use href="#r" x="1190.5" y="1086.6"/><use href="#r" x="1199.9" y="1086.6"/><use href="#r" x="1225.6" y="1078.2"/><use href="#r" x="1232.6" y="1082.9"/><use href="#r" x="1551.8" y="750.9"/><use href="#r" x="1554.1" y="753.7"/><use href="#r" x="1545.3" y="730.9"/><use href="#r" x="1546.2" y="732.3"/><use href="#r" x="1543.4" y="750.9"/><use href="#r" x="1548.1" y="746.7"/><use href="#r" x="1559.3" y="747.2"/><use href="#r" x="1566.7" y="745.3"/><use href="#r" x="1558.3" y="754.6"/><use href="#r" x="1566.2" y="759.7"/><use href="#r" x="1624.3" y="789"/><use href="#r" x="1622.9" y="799.3"/><use href="#r" x="1052.8" y="990.9"/><use href="#r" x="1054.4" y="996.6"/><use href="#r" x="1060.5" y="1003.6"/><use href="#r" x="1059.8" y="1012"/><use href="#r" x="1069.4" y="1013.2"/><use href="#r" x="1072" y="999.2"/><use href="#r" x="1068.1" y="990.2"/><use href="#r" x="1075.8" y="989.6"/><use href="#r" x="1082.8" y="1003.6"/><use href="#r" x="1083.5" y="995.3"/><use href="#r" x="1088.6" y="1014.5"/><use href="#r" x="1091.8" y="1004.3"/><use href="#r" x="1098.2" y="1004.9"/><use href="#r" x="1098.8" y="989.6"/><use href="#r" x="1093.7" y="994.7"/><use href="#r" x="1104.6" y="996.6"/><use href="#r" x="1107.1" y="1005.6"/><use href="#r" x="1103.9" y="1015.2"/><use href="#r" x="1110.9" y="990.2"/><use href="#r" x="1116.7" y="1003"/><use href="#r" x="1116.7" y="1013.2"/><use href="#r" x="1121.8" y="996.6"/><use href="#r" x="1128.2" y="1006.8"/><use href="#r" x="1130.8" y="997.3"/><use href="#r" x="1137.8" y="1007.5"/><use href="#r" x="1146.1" y="1007.5"/><use href="#r" x="1148.7" y="999.2"/><use href="#r" x="1110.3" y="1011.3"/><use href="#r" x="1084.7" y="988.9"/><use href="#r" x="1095.9" y="1105.8"/><use href="#r" x="1173.7" y="1007.1"/><use href="#r" x="1182.6" y="1008.5"/><use href="#r" x="1190.5" y="1004.8"/><use href="#r" x="1199.9" y="1011.3"/><use href="#r" x="1179.3" y="1016"/><use href="#r" x="1189.6" y="1018.8"/><use href="#r" x="1193.3" y="1016.5"/><use href="#r" x="1218.1" y="1009"/><use href="#r" x="1256.9" y="1017.4"/><use href="#r" x="1288.1" y="1022.7"/><use href="#r" x="1299.4" y="1018.7"/><use href="#r" x="1317.5" y="1023.4"/><use href="#r" x="1326.2" y="1028.8"/><use href="#r" x="1334.9" y="1024.1"/><use href="#r" x="1335.5" y="1028.8"/><use href="#r" x="1358.9" y="1028.1"/><use href="#r" x="1366.9" y="1032.8"/><use href="#r" x="1376.3" y="1034.8"/><use href="#r" x="1393" y="1032.1"/><use href="#r" x="1397.7" y="1031.4"/><use href="#r" x="1410.4" y="1032.8"/><use href="#r" x="1409.7" y="1038.1"/><use href="#r" x="1421.7" y="1036.1"/><use href="#r" x="1439.1" y="1038.8"/><use href="#r" x="1440.4" y="1034.1"/><use href="#r" x="1449.1" y="1038.8"/><use href="#r" x="1477.2" y="1043.5"/><use href="#r" x="1530.7" y="1052"/><use href="#r" x="1548" y="1053.9"/><use href="#r" x="1565.2" y="1055.8"/><use href="#r" x="1572.9" y="1059"/><use href="#r" x="1643.9" y="1069.2"/><use href="#r" x="1651.5" y="1079.4"/><use href="#r" x="1656" y="1072.4"/><use href="#r" x="1659.2" y="1072.4"/><use href="#r" x="1138.5" y="1182"/><use href="#r" x="1407.4" y="1203.7"/><use href="#a" x="1059.8" y="1020.3"/><use href="#a" x="1052.8" y="1046.5"/><use href="#a" x="1059.2" y="1055.4"/><use href="#a" x="1065.6" y="1043.3"/><use href="#a" x="1073.2" y="1039.4"/><use href="#a" x="1081.5" y="1038.8"/><use href="#a" x="1091.1" y="1040.1"/><use href="#a" x="1094.3" y="1035.6"/><use href="#a" x="1072.6" y="1047.1"/><use href="#a" x="1081.5" y="1050.3"/><use href="#a" x="1088.6" y="1049"/><use href="#a" x="1097.5" y="1042.6"/><use href="#a" x="1103.3" y="1050.9"/><use href="#a" x="1109.7" y="1046.5"/><use href="#a" x="1117.3" y="1047.1"/><use href="#a" x="1119.3" y="1056.7"/><use href="#a" x="1073.2" y="1056.7"/><use href="#a" x="1095.6" y="1058.6"/><use href="#a" x="1059.8" y="1063.6"/><use href="#a" x="1073.9" y="1056.6"/><use href="#a" x="1097.5" y="1061.1"/><use href="#a" x="1053.4" y="1096.2"/><use href="#a" x="1060.5" y="1104.6"/><use href="#a" x="1061.1" y="1112.2"/><use href="#a" x="1065.6" y="1088.6"/><use href="#a" x="1066.8" y="1096.2"/><use href="#a" x="1073.2" y="1089.9"/><use href="#a" x="1074.5" y="1105.8"/><use href="#a" x="1080.9" y="1084.7"/><use href="#a" x="1082.2" y="1095"/><use href="#a" x="1088.6" y="1083.5"/><use href="#a" x="1090.5" y="1091.1"/><use href="#a" x="1096.9" y="1077.7"/><use href="#a" x="1098.2" y="1084.7"/><use href="#a" x="1103.9" y="1093.1"/><use href="#a" x="1110.9" y="1091.1"/><use href="#a" x="1118" y="1086.7"/><use href="#a" x="1119.9" y="1102.6"/><use href="#a" x="1066.8" y="1083.5"/><use href="#a" x="1155.4" y="1008.5"/><use href="#a" x="1226" y="1004.3"/><use href="#a" x="1227.5" y="1011.8"/><use href="#a" x="1233.1" y="1017.4"/><use href="#a" x="1153.6" y="1047.3"/><use href="#a" x="1181.2" y="1047.8"/><use href="#a" x="1190" y="1048.3"/><use href="#a" x="1199.4" y="1048.7"/><use href="#a" x="1224.2" y="1040.3"/><use href="#a" x="1225.6" y="1045"/><use href="#a" x="1232.1" y="1051.1"/><use href="#a" x="1154" y="1082.9"/><use href="#a" x="1154" y="1086.6"/><use href="#a" x="1181.6" y="1087.1"/><use href="#a" x="1190.5" y="1086.6"/><use href="#a" x="1199.9" y="1086.6"/><use href="#a" x="1225.6" y="1078.2"/><use href="#a" x="1232.6" y="1082.9"/><use href="#b" x="1551.8" y="750.9"/><use href="#b" x="1554.1" y="753.7"/><use href="#b" x="1545.3" y="730.9"/><use href="#b" x="1546.2" y="732.3"/><use href="#b" x="1543.4" y="750.9"/><use href="#b" x="1548.1" y="746.7"/><use href="#b" x="1559.3" y="747.2"/><use href="#b" x="1566.7" y="745.3"/><use href="#b" x="1558.3" y="754.6"/><use href="#b" x="1566.2" y="759.7"/><use href="#b" x="1624.3" y="789"/><use href="#b" x="1622.9" y="799.3"/><use href="#b" x="1052.8" y="990.9"/><use href="#b" x="1054.4" y="996.6"/><use href="#b" x="1060.5" y="1003.6"/><use href="#b" x="1059.8" y="1012"/><use href="#b" x="1069.4" y="1013.2"/><use href="#b" x="1072" y="999.2"/><use href="#b" x="1068.1" y="990.2"/><use href="#b" x="1075.8" y="989.6"/><use href="#b" x="1082.8" y="1003.6"/><use href="#b" x="1083.5" y="995.3"/><use href="#b" x="1088.6" y="1014.5"/><use href="#b" x="1091.8" y="1004.3"/><use href="#b" x="1098.2" y="1004.9"/><use href="#b" x="1098.8" y="989.6"/><use href="#b" x="1093.7" y="994.7"/><use href="#b" x="1104.6" y="996.6"/><use href="#b" x="1107.1" y="1005.6"/><use href="#b" x="1103.9" y="1015.2"/><use href="#b" x="1110.9" y="990.2"/><use href="#b" x="1116.7" y="1003"/><use href="#b" x="1116.7" y="1013.2"/><use href="#b" x="1121.8" y="996.6"/><use href="#b" x="1128.2" y="1006.8"/><use href="#b" x="1130.8" y="997.3"/><use href="#b" x="1137.8" y="1007.5"/><use href="#b" x="1146.1" y="1007.5"/><use href="#b" x="1148.7" y="999.2"/><use href="#b" x="1110.3" y="1011.3"/><use href="#b" x="1084.7" y="988.9"/><use href="#b" x="1095.9" y="1105.8"/><use href="#b" x="1173.7" y="1007.1"/><use href="#b" x="1182.6" y="1008.5"/><use href="#b" x="1190.5" y="1004.8"/><use href="#b" x="1199.9" y="1011.3"/><use href="#b" x="1179.3" y="1016"/><use href="#b" x="1189.6" y="1018.8"/><use href="#b" x="1193.3" y="1016.5"/><use href="#b" x="1218.1" y="1009"/><use href="#b" x="1256.9" y="1017.4"/><use href="#b" x="1288.1" y="1022.7"/><use href="#b" x="1299.4" y="1018.7"/><use href="#b" x="1317.5" y="1023.4"/><use href="#b" x="1326.2" y="1028.8"/><use href="#b" x="1334.9" y="1024.1"/><use href="#b" x="1335.5" y="1028.8"/><use href="#b" x="1358.9" y="1028.1"/><use href="#b" x="1366.9" y="1032.8"/><use href="#b" x="1376.3" y="1034.8"/><use href="#b" x="1393" y="1032.1"/><use href="#b" x="1397.7" y="1031.4"/><use href="#b" x="1410.4" y="1032.8"/><use href="#b" x="1409.7" y="1038.1"/><use href="#b" x="1421.7" y="1036.1"/><use href="#b" x="1439.1" y="1038.8"/><use href="#b" x="1440.4" y="1034.1"/><use href="#b" x="1449.1" y="1038.8"/><use href="#b" x="1477.2" y="1043.5"/><use href="#b" x="1530.7" y="1052"/><use href="#b" x="1548" y="1053.9"/><use href="#b" x="1565.2" y="1055.8"/><use href="#b" x="1572.9" y="1059"/><use href="#b" x="1643.9" y="1069.2"/><use href="#b" x="1651.5" y="1079.4"/><use href="#b" x="1656" y="1072.4"/><use href="#b" x="1659.2" y="1072.4"/><use href="#b" x="1138.5" y="1182"/><use href="#b" x="1407.4" y="1203.7"/></g><rect x="1020.9" y="706.7" width="669.4" height="520.5" fill="none" stroke="#000" stroke-width="1.6" stroke-linejoin="miter"/><text x="1117.5" y="1255.9" class="t" text-anchor="middle">0</text><text x="1239.9" y="1255.9" class="t" text-anchor="middle">1</text><text x="1362.3" y="1255.9" class="t" text-anchor="middle">2</text><text x="1484.7" y="1255.9" class="t" text-anchor="middle">3</text><text x="1607.1" y="1255.9" class="t" text-anchor="middle">4</text><text x="1007.1" y="1224.88" class="t" text-anchor="end">−1.0</text><text x="1007.1" y="1138.54" class="t" text-anchor="end">−0.5</text><text x="1007.1" y="1052.2" class="t" text-anchor="end">0.0</text><text x="1007.1" y="965.86" class="t" text-anchor="end">0.5</text><text x="1007.1" y="879.52" class="t" text-anchor="end">1.0</text><text x="1007.1" y="793.18" class="t" text-anchor="end">1.5</text><path d="M1117.5 1227.2v6.9M1239.9 1227.2v6.9M1362.3 1227.2v6.9M1484.7 1227.2v6.9M1607.1 1227.2v6.9M1020.9 1216.58h-6.9M1020.9 1130.24h-6.9M1020.9 1043.9h-6.9M1020.9 957.56h-6.9M1020.9 871.22h-6.9M1020.9 784.88h-6.9" stroke="#000" stroke-width="1.6" fill="none"/><text x="1355.6" y="1282.8" class="t" text-anchor="middle">feature 1</text><text transform="translate(948.2 967.65) rotate(-90)" class="t" text-anchor="middle">feature 2</text><text x="1352.5" y="695.2" class="ti" text-anchor="middle">T-SNE of MOD-V data</text><rect x="1597.8" y="718.8" width="84" height="63.2" rx="3.5" fill="#fff" fill-opacity="0.8" stroke="#ccc" stroke-width="1.4400000000000002"/><circle cx="1624.8" cy="734.6" r="7.0" fill="#db5f57"/><circle cx="1624.8" cy="763.4" r="7.0" fill="#57d3db"/><text x="1666.7" y="740.4" class="t" text-anchor="middle">0</text><text x="1666.7" y="769.2" class="t" text-anchor="middle">1</text></g><text x="1021" y="701.5" class="t">1e6</text><text x="1690.8" y="1281" class="t" text-anchor="end">1e6</text></svg></body></html>
